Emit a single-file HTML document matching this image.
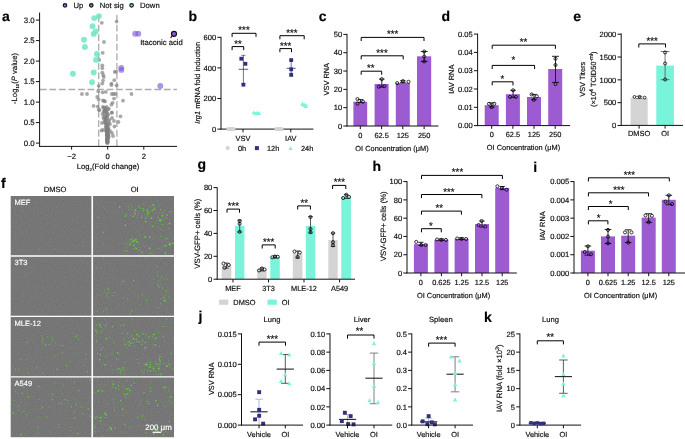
<!DOCTYPE html><html><head><meta charset="utf-8"><title>Figure</title><style>html,body{margin:0;padding:0;background:#fff}svg{display:block}</style></head><body><svg width="685" height="439" viewBox="0 0 685 439" font-family="'Liberation Sans', Arial, sans-serif" text-rendering="geometricPrecision">
<style>text{stroke:#000;stroke-width:0.18px;stroke-opacity:0.9}text.w{stroke:#fff}</style>
<rect width="685" height="439" fill="#fff"/>
<text x="2" y="21" font-size="14" font-weight="bold" fill="#000">a</text>
<circle cx="65" cy="5.3" r="1.75" fill="#8f6fe0" stroke="#111" stroke-width="1.15"/>
<text x="73.5" y="8.0" font-size="7.7" text-anchor="start" fill="#111" >Up</text>
<circle cx="91.3" cy="5.3" r="1.75" fill="#8a8a8a" stroke="#111" stroke-width="1.15"/>
<text x="99.8" y="8.0" font-size="7.7" text-anchor="start" fill="#111" >Not sig</text>
<circle cx="131.6" cy="5.3" r="1.75" fill="#6fe6c6" stroke="#111" stroke-width="1.15"/>
<text x="140.0" y="8.0" font-size="7.7" text-anchor="start" fill="#111" >Down</text>
<line x1="98.70" y1="146.20" x2="98.70" y2="12.80" stroke="#acacac" stroke-width="1.3" stroke-dasharray="6.8 2.76"/>
<line x1="116.90" y1="146.20" x2="116.90" y2="12.80" stroke="#acacac" stroke-width="1.3" stroke-dasharray="6.8 2.76"/>
<line x1="39.90" y1="89.50" x2="177.00" y2="89.50" stroke="#acacac" stroke-width="1.3" stroke-dasharray="6.75 2.78"/>
<circle cx="101.8" cy="22.8" r="1.9" fill="#808080" fill-opacity="0.68"/>
<circle cx="116.6" cy="21.6" r="1.9" fill="#808080" fill-opacity="0.68"/>
<circle cx="104" cy="42" r="1.9" fill="#808080" fill-opacity="0.68"/>
<circle cx="102.7" cy="52.8" r="1.9" fill="#808080" fill-opacity="0.68"/>
<circle cx="99.2" cy="59.9" r="1.9" fill="#808080" fill-opacity="0.68"/>
<circle cx="102.3" cy="65.3" r="1.9" fill="#808080" fill-opacity="0.68"/>
<circle cx="102.3" cy="68.2" r="1.9" fill="#808080" fill-opacity="0.68"/>
<circle cx="102.3" cy="72.6" r="1.9" fill="#808080" fill-opacity="0.68"/>
<circle cx="103.2" cy="75" r="1.9" fill="#808080" fill-opacity="0.68"/>
<circle cx="103.8" cy="77" r="1.9" fill="#808080" fill-opacity="0.68"/>
<circle cx="103" cy="80.6" r="1.9" fill="#808080" fill-opacity="0.68"/>
<circle cx="102.3" cy="83.6" r="1.9" fill="#808080" fill-opacity="0.68"/>
<circle cx="114.7" cy="71.9" r="1.9" fill="#808080" fill-opacity="0.68"/>
<circle cx="116.2" cy="71.6" r="1.9" fill="#808080" fill-opacity="0.68"/>
<circle cx="114.3" cy="80.2" r="1.9" fill="#808080" fill-opacity="0.68"/>
<circle cx="111.4" cy="83.6" r="1.9" fill="#808080" fill-opacity="0.68"/>
<circle cx="111.4" cy="85" r="1.9" fill="#808080" fill-opacity="0.68"/>
<circle cx="116.6" cy="85.3" r="1.9" fill="#808080" fill-opacity="0.68"/>
<circle cx="98.7" cy="85.8" r="1.9" fill="#808080" fill-opacity="0.68"/>
<circle cx="81.9" cy="94" r="1.9" fill="#808080" fill-opacity="0.68"/>
<circle cx="87" cy="94" r="1.9" fill="#808080" fill-opacity="0.68"/>
<circle cx="98.2" cy="91.2" r="1.9" fill="#808080" fill-opacity="0.68"/>
<circle cx="102.6" cy="92.3" r="1.9" fill="#808080" fill-opacity="0.68"/>
<circle cx="105.8" cy="91.9" r="1.9" fill="#808080" fill-opacity="0.68"/>
<circle cx="111.8" cy="94" r="1.9" fill="#808080" fill-opacity="0.68"/>
<circle cx="113.5" cy="94" r="1.9" fill="#808080" fill-opacity="0.68"/>
<circle cx="115.5" cy="94" r="1.9" fill="#808080" fill-opacity="0.68"/>
<circle cx="131.5" cy="94" r="1.9" fill="#808080" fill-opacity="0.68"/>
<circle cx="97.2" cy="97" r="1.9" fill="#808080" fill-opacity="0.68"/>
<circle cx="98.7" cy="99.6" r="1.9" fill="#808080" fill-opacity="0.68"/>
<circle cx="103" cy="100.4" r="1.9" fill="#808080" fill-opacity="0.68"/>
<circle cx="105" cy="101.4" r="1.9" fill="#808080" fill-opacity="0.68"/>
<circle cx="104" cy="100.9" r="1.9" fill="#808080" fill-opacity="0.68"/>
<circle cx="114" cy="98.6" r="1.9" fill="#808080" fill-opacity="0.68"/>
<circle cx="123" cy="100.7" r="1.9" fill="#808080" fill-opacity="0.68"/>
<circle cx="112.6" cy="102.8" r="1.9" fill="#808080" fill-opacity="0.68"/>
<circle cx="111.4" cy="104.7" r="1.9" fill="#808080" fill-opacity="0.68"/>
<circle cx="93.6" cy="105.9" r="1.9" fill="#808080" fill-opacity="0.68"/>
<circle cx="97.7" cy="106.6" r="1.9" fill="#808080" fill-opacity="0.68"/>
<circle cx="103.5" cy="107.7" r="1.9" fill="#808080" fill-opacity="0.68"/>
<circle cx="105.3" cy="109.1" r="1.9" fill="#808080" fill-opacity="0.68"/>
<circle cx="98.7" cy="109.8" r="1.9" fill="#808080" fill-opacity="0.68"/>
<circle cx="103.8" cy="111.3" r="1.9" fill="#808080" fill-opacity="0.68"/>
<circle cx="111.8" cy="112.5" r="1.9" fill="#808080" fill-opacity="0.68"/>
<circle cx="99.5" cy="110" r="1.9" fill="#808080" fill-opacity="0.68"/>
<circle cx="103" cy="107" r="1.9" fill="#808080" fill-opacity="0.68"/>
<circle cx="104.5" cy="110.5" r="1.9" fill="#808080" fill-opacity="0.68"/>
<circle cx="102.5" cy="114" r="1.9" fill="#808080" fill-opacity="0.68"/>
<circle cx="104.5" cy="116.5" r="1.9" fill="#808080" fill-opacity="0.68"/>
<circle cx="105.5" cy="119" r="1.9" fill="#808080" fill-opacity="0.68"/>
<circle cx="111.8" cy="112.8" r="1.9" fill="#808080" fill-opacity="0.68"/>
<circle cx="120.5" cy="116.3" r="1.9" fill="#808080" fill-opacity="0.68"/>
<circle cx="112" cy="118" r="1.9" fill="#808080" fill-opacity="0.68"/>
<circle cx="109.5" cy="120" r="1.9" fill="#808080" fill-opacity="0.68"/>
<circle cx="114" cy="121" r="1.9" fill="#808080" fill-opacity="0.68"/>
<circle cx="118.5" cy="122" r="1.9" fill="#808080" fill-opacity="0.68"/>
<circle cx="102" cy="123" r="1.9" fill="#808080" fill-opacity="0.68"/>
<circle cx="105.5" cy="123" r="1.9" fill="#808080" fill-opacity="0.68"/>
<circle cx="110" cy="124" r="1.9" fill="#808080" fill-opacity="0.68"/>
<circle cx="106" cy="126" r="1.9" fill="#808080" fill-opacity="0.68"/>
<circle cx="114.5" cy="126.5" r="1.9" fill="#808080" fill-opacity="0.68"/>
<circle cx="108.5" cy="128" r="1.9" fill="#808080" fill-opacity="0.68"/>
<circle cx="101.5" cy="130.5" r="1.9" fill="#808080" fill-opacity="0.68"/>
<circle cx="106" cy="130" r="1.9" fill="#808080" fill-opacity="0.68"/>
<circle cx="110" cy="131" r="1.9" fill="#808080" fill-opacity="0.68"/>
<circle cx="112" cy="133" r="1.9" fill="#808080" fill-opacity="0.68"/>
<circle cx="113" cy="136" r="1.9" fill="#808080" fill-opacity="0.68"/>
<circle cx="103" cy="130" r="1.9" fill="#808080" fill-opacity="0.68"/>
<circle cx="107.4" cy="143.0" r="1.9" fill="#808080" fill-opacity="0.68"/>
<circle cx="107.2" cy="142.7" r="1.9" fill="#808080" fill-opacity="0.68"/>
<circle cx="107.8" cy="142.3" r="1.9" fill="#808080" fill-opacity="0.68"/>
<circle cx="107.1" cy="142.0" r="1.9" fill="#808080" fill-opacity="0.68"/>
<circle cx="107.6" cy="141.6" r="1.9" fill="#808080" fill-opacity="0.68"/>
<circle cx="107.4" cy="141.3" r="1.9" fill="#808080" fill-opacity="0.68"/>
<circle cx="107.0" cy="141.0" r="1.9" fill="#808080" fill-opacity="0.68"/>
<circle cx="107.6" cy="140.6" r="1.9" fill="#808080" fill-opacity="0.68"/>
<circle cx="107.0" cy="140.3" r="1.9" fill="#808080" fill-opacity="0.68"/>
<circle cx="107.5" cy="139.9" r="1.9" fill="#808080" fill-opacity="0.68"/>
<circle cx="107.0" cy="139.6" r="1.9" fill="#808080" fill-opacity="0.68"/>
<circle cx="107.0" cy="139.2" r="1.9" fill="#808080" fill-opacity="0.68"/>
<circle cx="107.5" cy="138.9" r="1.9" fill="#808080" fill-opacity="0.68"/>
<circle cx="108.1" cy="138.6" r="1.9" fill="#808080" fill-opacity="0.68"/>
<circle cx="107.0" cy="138.2" r="1.9" fill="#808080" fill-opacity="0.68"/>
<circle cx="107.1" cy="137.9" r="1.9" fill="#808080" fill-opacity="0.68"/>
<circle cx="107.8" cy="137.5" r="1.9" fill="#808080" fill-opacity="0.68"/>
<circle cx="108.4" cy="137.2" r="1.9" fill="#808080" fill-opacity="0.68"/>
<circle cx="107.7" cy="136.9" r="1.9" fill="#808080" fill-opacity="0.68"/>
<circle cx="107.4" cy="136.5" r="1.9" fill="#808080" fill-opacity="0.68"/>
<circle cx="108.5" cy="136.2" r="1.9" fill="#808080" fill-opacity="0.68"/>
<circle cx="106.7" cy="135.8" r="1.9" fill="#808080" fill-opacity="0.68"/>
<circle cx="108.3" cy="135.5" r="1.9" fill="#808080" fill-opacity="0.68"/>
<circle cx="107.2" cy="135.1" r="1.9" fill="#808080" fill-opacity="0.68"/>
<circle cx="106.9" cy="134.8" r="1.9" fill="#808080" fill-opacity="0.68"/>
<circle cx="106.8" cy="134.5" r="1.9" fill="#808080" fill-opacity="0.68"/>
<circle cx="107.2" cy="134.1" r="1.9" fill="#808080" fill-opacity="0.68"/>
<circle cx="108.3" cy="133.8" r="1.9" fill="#808080" fill-opacity="0.68"/>
<circle cx="106.9" cy="133.4" r="1.9" fill="#808080" fill-opacity="0.68"/>
<circle cx="107.8" cy="133.1" r="1.9" fill="#808080" fill-opacity="0.68"/>
<circle cx="107.9" cy="132.8" r="1.9" fill="#808080" fill-opacity="0.68"/>
<circle cx="107.3" cy="132.4" r="1.9" fill="#808080" fill-opacity="0.68"/>
<circle cx="107.7" cy="132.1" r="1.9" fill="#808080" fill-opacity="0.68"/>
<circle cx="106.5" cy="131.7" r="1.9" fill="#808080" fill-opacity="0.68"/>
<circle cx="106.5" cy="131.4" r="1.9" fill="#808080" fill-opacity="0.68"/>
<circle cx="106.9" cy="131.0" r="1.9" fill="#808080" fill-opacity="0.68"/>
<circle cx="108.1" cy="130.7" r="1.9" fill="#808080" fill-opacity="0.68"/>
<circle cx="107.4" cy="130.4" r="1.9" fill="#808080" fill-opacity="0.68"/>
<circle cx="107.1" cy="130.0" r="1.9" fill="#808080" fill-opacity="0.68"/>
<circle cx="107.8" cy="129.7" r="1.9" fill="#808080" fill-opacity="0.68"/>
<circle cx="107.5" cy="129.3" r="1.9" fill="#808080" fill-opacity="0.68"/>
<circle cx="107.0" cy="129.0" r="1.9" fill="#808080" fill-opacity="0.68"/>
<circle cx="107.7" cy="129.0" r="1.9" fill="#808080" fill-opacity="0.68"/>
<circle cx="107.4" cy="128.2" r="1.9" fill="#808080" fill-opacity="0.68"/>
<circle cx="105.8" cy="127.4" r="1.9" fill="#808080" fill-opacity="0.68"/>
<circle cx="106.9" cy="126.6" r="1.9" fill="#808080" fill-opacity="0.68"/>
<circle cx="106.7" cy="125.7" r="1.9" fill="#808080" fill-opacity="0.68"/>
<circle cx="108.1" cy="124.9" r="1.9" fill="#808080" fill-opacity="0.68"/>
<circle cx="107.4" cy="124.1" r="1.9" fill="#808080" fill-opacity="0.68"/>
<circle cx="105.5" cy="123.3" r="1.9" fill="#808080" fill-opacity="0.68"/>
<circle cx="108.6" cy="122.5" r="1.9" fill="#808080" fill-opacity="0.68"/>
<circle cx="104.5" cy="121.7" r="1.9" fill="#808080" fill-opacity="0.68"/>
<circle cx="105.8" cy="120.9" r="1.9" fill="#808080" fill-opacity="0.68"/>
<circle cx="107.5" cy="120.0" r="1.9" fill="#808080" fill-opacity="0.68"/>
<circle cx="104.3" cy="119.2" r="1.9" fill="#808080" fill-opacity="0.68"/>
<circle cx="106.0" cy="118.4" r="1.9" fill="#808080" fill-opacity="0.68"/>
<circle cx="103.4" cy="117.6" r="1.9" fill="#808080" fill-opacity="0.68"/>
<circle cx="107.0" cy="116.8" r="1.9" fill="#808080" fill-opacity="0.68"/>
<circle cx="107.5" cy="116.0" r="1.9" fill="#808080" fill-opacity="0.68"/>
<circle cx="106.3" cy="115.1" r="1.9" fill="#808080" fill-opacity="0.68"/>
<circle cx="108.2" cy="114.3" r="1.9" fill="#808080" fill-opacity="0.68"/>
<circle cx="104.5" cy="113.5" r="1.9" fill="#808080" fill-opacity="0.68"/>
<circle cx="107.0" cy="112.7" r="1.9" fill="#808080" fill-opacity="0.68"/>
<circle cx="106.3" cy="111.9" r="1.9" fill="#808080" fill-opacity="0.68"/>
<circle cx="106.1" cy="111.1" r="1.9" fill="#808080" fill-opacity="0.68"/>
<circle cx="105.2" cy="110.3" r="1.9" fill="#808080" fill-opacity="0.68"/>
<circle cx="108.0" cy="109.4" r="1.9" fill="#808080" fill-opacity="0.68"/>
<circle cx="108.8" cy="108.6" r="1.9" fill="#808080" fill-opacity="0.68"/>
<circle cx="105.2" cy="107.8" r="1.9" fill="#808080" fill-opacity="0.68"/>
<circle cx="106.6" cy="107.0" r="1.9" fill="#808080" fill-opacity="0.68"/>
<circle cx="98.9" cy="16.1" r="2.95" fill="#6fe6c6" fill-opacity="0.85"/>
<circle cx="94.2" cy="18.1" r="2.95" fill="#6fe6c6" fill-opacity="0.85"/>
<circle cx="92.5" cy="26.3" r="2.95" fill="#6fe6c6" fill-opacity="0.85"/>
<circle cx="95.7" cy="31.4" r="2.95" fill="#6fe6c6" fill-opacity="0.85"/>
<circle cx="93.6" cy="33.9" r="2.95" fill="#6fe6c6" fill-opacity="0.85"/>
<circle cx="84.0" cy="39.7" r="2.95" fill="#6fe6c6" fill-opacity="0.85"/>
<circle cx="84.9" cy="47.0" r="2.95" fill="#6fe6c6" fill-opacity="0.85"/>
<circle cx="96.9" cy="54.0" r="2.95" fill="#6fe6c6" fill-opacity="0.85"/>
<circle cx="96.0" cy="59.9" r="2.95" fill="#6fe6c6" fill-opacity="0.85"/>
<circle cx="72.9" cy="73.8" r="2.95" fill="#6fe6c6" fill-opacity="0.85"/>
<circle cx="93.7" cy="72.5" r="2.95" fill="#6fe6c6" fill-opacity="0.85"/>
<circle cx="92" cy="82.3" r="2.95" fill="#6fe6c6" fill-opacity="0.85"/>
<circle cx="135.2" cy="33.8" r="2.95" fill="#8462dc" fill-opacity="0.68"/>
<circle cx="138.3" cy="33.8" r="2.95" fill="#8462dc" fill-opacity="0.68"/>
<circle cx="121.3" cy="69.9" r="2.95" fill="#8462dc" fill-opacity="0.68"/>
<circle cx="121.3" cy="68.0" r="2.95" fill="#8462dc" fill-opacity="0.68"/>
<circle cx="160.3" cy="86" r="2.95" fill="#8462dc" fill-opacity="0.68"/>
<line x1="170.60" y1="38.00" x2="173.00" y2="34.50" stroke="#111" stroke-width="1.1" />
<circle cx="174" cy="33.8" r="2.5" fill="#8f5fe0" stroke="#111" stroke-width="1.25"/>
<text x="161.5" y="44.6" font-size="7.7" text-anchor="middle" fill="#111" >Itaconic acid</text>
<line x1="39.60" y1="12.55" x2="39.60" y2="146.85" stroke="#111" stroke-width="1.0" />
<line x1="35.90" y1="20.10" x2="39.60" y2="20.10" stroke="#111" stroke-width="1.0" />
<text x="34.7" y="22.8" font-size="7.8500000000000005" text-anchor="end" fill="#111" >3.0</text>
<line x1="35.90" y1="40.60" x2="39.60" y2="40.60" stroke="#111" stroke-width="1.0" />
<text x="34.7" y="43.3" font-size="7.8500000000000005" text-anchor="end" fill="#111" >2.5</text>
<line x1="35.90" y1="61.10" x2="39.60" y2="61.10" stroke="#111" stroke-width="1.0" />
<text x="34.7" y="63.8" font-size="7.8500000000000005" text-anchor="end" fill="#111" >2.0</text>
<line x1="35.90" y1="81.60" x2="39.60" y2="81.60" stroke="#111" stroke-width="1.0" />
<text x="34.7" y="84.3" font-size="7.8500000000000005" text-anchor="end" fill="#111" >1.5</text>
<line x1="35.90" y1="102.10" x2="39.60" y2="102.10" stroke="#111" stroke-width="1.0" />
<text x="34.7" y="104.8" font-size="7.8500000000000005" text-anchor="end" fill="#111" >1.0</text>
<line x1="35.90" y1="122.60" x2="39.60" y2="122.60" stroke="#111" stroke-width="1.0" />
<text x="34.7" y="125.3" font-size="7.8500000000000005" text-anchor="end" fill="#111" >0.5</text>
<line x1="35.90" y1="143.10" x2="39.60" y2="143.10" stroke="#111" stroke-width="1.0" />
<text x="34.7" y="145.8" font-size="7.8500000000000005" text-anchor="end" fill="#111" >0.0</text>
<line x1="39.15" y1="146.40" x2="177.00" y2="146.40" stroke="#111" stroke-width="1.0" />
<line x1="71.60" y1="146.40" x2="71.60" y2="149.60" stroke="#111" stroke-width="1.0" />
<text x="71.6" y="159.3" font-size="7.7" text-anchor="middle" fill="#111" >−2</text>
<line x1="107.70" y1="146.40" x2="107.70" y2="149.60" stroke="#111" stroke-width="1.0" />
<text x="107.7" y="159.3" font-size="7.7" text-anchor="middle" fill="#111" >0</text>
<line x1="143.80" y1="146.40" x2="143.80" y2="149.60" stroke="#111" stroke-width="1.0" />
<text x="143.8" y="159.3" font-size="7.7" text-anchor="middle" fill="#111" >2</text>
<text transform="translate(17,78.5) rotate(-90)" font-size="7.7" text-anchor="middle" fill="#111">-Log<tspan font-size="4.3" dy="1.5">10</tspan><tspan dy="-1.5">(</tspan><tspan font-style="italic">P</tspan> value)</text>
<text x="108" y="169" font-size="7.7" text-anchor="middle" fill="#111">Log<tspan font-size="4.3" dy="1.5">2</tspan><tspan dy="-1.5">(Fold change)</tspan></text>
<text x="188.5" y="20.8" font-size="14" font-weight="bold" fill="#000">b</text>
<line x1="221.00" y1="36.85" x2="221.00" y2="129.55" stroke="#111" stroke-width="1.0" />
<line x1="217.30" y1="37.30" x2="221.00" y2="37.30" stroke="#111" stroke-width="1.0" />
<text x="216.1" y="40.0" font-size="7.550000000000001" text-anchor="end" fill="#111" >600</text>
<line x1="217.30" y1="67.90" x2="221.00" y2="67.90" stroke="#111" stroke-width="1.0" />
<text x="216.1" y="70.6" font-size="7.550000000000001" text-anchor="end" fill="#111" >400</text>
<line x1="217.30" y1="98.50" x2="221.00" y2="98.50" stroke="#111" stroke-width="1.0" />
<text x="216.1" y="101.2" font-size="7.550000000000001" text-anchor="end" fill="#111" >200</text>
<line x1="217.30" y1="129.10" x2="221.00" y2="129.10" stroke="#111" stroke-width="1.0" />
<text x="216.1" y="131.8" font-size="7.550000000000001" text-anchor="end" fill="#111" >0</text>
<line x1="220.55" y1="129.10" x2="313.40" y2="129.10" stroke="#111" stroke-width="1.0" />
<line x1="243.00" y1="129.10" x2="243.00" y2="132.30" stroke="#111" stroke-width="1.0" />
<text x="243.0" y="140.7" font-size="7.4" text-anchor="middle" fill="#111" >VSV</text>
<line x1="290.80" y1="129.10" x2="290.80" y2="132.30" stroke="#111" stroke-width="1.0" />
<text x="290.8" y="140.7" font-size="7.4" text-anchor="middle" fill="#111" >IAV</text>
<text transform="translate(200,82.8) rotate(-90)" font-size="7.4" text-anchor="middle" fill="#111"><tspan font-style="italic">Irg1</tspan> mRNA fold induction</text>
<circle cx="228.6" cy="129.1" r="2.2" fill="#d4d4d4"/>
<circle cx="230.2" cy="129.1" r="2.2" fill="#d4d4d4"/>
<circle cx="231.8" cy="129.1" r="2.2" fill="#d4d4d4"/>
<circle cx="233.4" cy="129.1" r="2.2" fill="#d4d4d4"/>
<circle cx="276.6" cy="129.1" r="2.2" fill="#d4d4d4"/>
<circle cx="278.2" cy="129.1" r="2.2" fill="#d4d4d4"/>
<circle cx="279.8" cy="129.1" r="2.2" fill="#d4d4d4"/>
<circle cx="281.4" cy="129.1" r="2.2" fill="#d4d4d4"/>
<line x1="243.40" y1="55.30" x2="243.40" y2="83.60" stroke="#32307c" stroke-width="0.7" />
<line x1="241.40" y1="55.30" x2="245.40" y2="55.30" stroke="#32307c" stroke-width="0.7" />
<line x1="241.40" y1="83.60" x2="245.40" y2="83.60" stroke="#32307c" stroke-width="0.7" />
<line x1="238.60" y1="69.30" x2="248.20" y2="69.30" stroke="#32307c" stroke-width="0.8" />
<rect x="239.4" y="56.8" width="3.8" height="3.8" fill="#32307c"/>
<rect x="243.5" y="61.9" width="3.8" height="3.8" fill="#32307c"/>
<rect x="241.5" y="82.8" width="3.8" height="3.8" fill="#32307c"/>
<line x1="291.20" y1="60.00" x2="291.20" y2="76.00" stroke="#32307c" stroke-width="0.7" />
<line x1="289.20" y1="60.00" x2="293.20" y2="60.00" stroke="#32307c" stroke-width="0.7" />
<line x1="289.20" y1="76.00" x2="293.20" y2="76.00" stroke="#32307c" stroke-width="0.7" />
<line x1="286.70" y1="68.30" x2="295.60" y2="68.30" stroke="#32307c" stroke-width="0.8" />
<rect x="289.3" y="58.2" width="3.8" height="3.8" fill="#32307c"/>
<rect x="289.3" y="67.4" width="3.8" height="3.8" fill="#32307c"/>
<rect x="289.3" y="72.9" width="3.8" height="3.8" fill="#32307c"/>
<path d="M251.9,114.6 L256.5,114.6 L254.2,110.4 Z" fill="#79f4db"/>
<path d="M254.2,115.2 L258.8,115.2 L256.5,111.0 Z" fill="#79f4db"/>
<path d="M256.5,114.9 L261.1,114.9 L258.8,110.7 Z" fill="#79f4db"/>
<line x1="252.00" y1="112.70" x2="260.00" y2="112.70" stroke="#79f4db" stroke-width="0.8" />
<path d="M300.2,105.7 L304.8,105.7 L302.5,101.5 Z" fill="#79f4db"/>
<path d="M303.5,108.0 L308.1,108.0 L305.8,103.8 Z" fill="#79f4db"/>
<path d="M302.0,106.7 L306.6,106.7 L304.3,102.5 Z" fill="#79f4db"/>
<line x1="300.50" y1="105.00" x2="308.50" y2="105.00" stroke="#79f4db" stroke-width="0.8" />
<path d="M232.1,36.9 V33.3 H256.0 V36.9" fill="none" stroke="#000" stroke-width="1" stroke-linejoin="miter"/>
<text x="244.0" y="33.3" font-size="9.7" text-anchor="middle" fill="#000" >***</text>
<path d="M232.1,50.2 V46.6 H243.7 V50.2" fill="none" stroke="#000" stroke-width="1" stroke-linejoin="miter"/>
<text x="237.9" y="46.6" font-size="9.7" text-anchor="middle" fill="#000" >**</text>
<path d="M279.9,39.3 V35.7 H304.2 V39.3" fill="none" stroke="#000" stroke-width="1" stroke-linejoin="miter"/>
<text x="291.9" y="35.7" font-size="9.7" text-anchor="middle" fill="#000" >***</text>
<path d="M279.9,52.2 V48.6 H291.5 V52.2" fill="none" stroke="#000" stroke-width="1" stroke-linejoin="miter"/>
<text x="285.7" y="48.6" font-size="9.7" text-anchor="middle" fill="#000" >***</text>
<circle cx="227.7" cy="148.1" r="2.1" fill="#d4d4d4"/>
<text x="237.9" y="150.8" font-size="7.4" text-anchor="start" fill="#111" >0h</text>
<rect x="254.9" y="146.1" width="4" height="4" fill="#32307c"/>
<text x="267.0" y="150.8" font-size="7.4" text-anchor="start" fill="#111" >12h</text>
<path d="M288.5,150.0 L292.7,150.0 L290.6,146.2 Z" fill="#79f4db"/>
<text x="301.0" y="150.8" font-size="7.4" text-anchor="start" fill="#111" >24h</text>
<text x="318.7" y="21" font-size="14" font-weight="bold" fill="#000">c</text>
<rect x="353.4" y="101.7" width="13.8" height="24.3" fill="#9d5bd2"/>
<rect x="374.6" y="84.0" width="14.0" height="42.0" fill="#9d5bd2"/>
<rect x="395.8" y="83.0" width="14.0" height="43.0" fill="#9d5bd2"/>
<rect x="417.0" y="56.3" width="14.2" height="69.7" fill="#9d5bd2"/>
<line x1="347.00" y1="33.95" x2="347.00" y2="126.45" stroke="#111" stroke-width="1.0" />
<line x1="343.30" y1="34.40" x2="347.00" y2="34.40" stroke="#111" stroke-width="1.0" />
<text x="342.1" y="37.1" font-size="7.550000000000001" text-anchor="end" fill="#111" >50</text>
<line x1="343.30" y1="52.72" x2="347.00" y2="52.72" stroke="#111" stroke-width="1.0" />
<text x="342.1" y="55.4" font-size="7.550000000000001" text-anchor="end" fill="#111" >40</text>
<line x1="343.30" y1="71.04" x2="347.00" y2="71.04" stroke="#111" stroke-width="1.0" />
<text x="342.1" y="73.7" font-size="7.550000000000001" text-anchor="end" fill="#111" >30</text>
<line x1="343.30" y1="89.36" x2="347.00" y2="89.36" stroke="#111" stroke-width="1.0" />
<text x="342.1" y="92.1" font-size="7.550000000000001" text-anchor="end" fill="#111" >20</text>
<line x1="343.30" y1="107.68" x2="347.00" y2="107.68" stroke="#111" stroke-width="1.0" />
<text x="342.1" y="110.4" font-size="7.550000000000001" text-anchor="end" fill="#111" >10</text>
<line x1="343.30" y1="126.00" x2="347.00" y2="126.00" stroke="#111" stroke-width="1.0" />
<text x="342.1" y="128.7" font-size="7.550000000000001" text-anchor="end" fill="#111" >0</text>
<line x1="346.55" y1="126.00" x2="438.50" y2="126.00" stroke="#111" stroke-width="1.0" />
<line x1="360.30" y1="126.00" x2="360.30" y2="129.20" stroke="#111" stroke-width="1.0" />
<text x="360.3" y="138.0" font-size="7.4" text-anchor="middle" fill="#111" >0</text>
<line x1="381.60" y1="126.00" x2="381.60" y2="129.20" stroke="#111" stroke-width="1.0" />
<text x="381.6" y="138.0" font-size="7.4" text-anchor="middle" fill="#111" >62.5</text>
<line x1="402.80" y1="126.00" x2="402.80" y2="129.20" stroke="#111" stroke-width="1.0" />
<text x="402.8" y="138.0" font-size="7.4" text-anchor="middle" fill="#111" >125</text>
<line x1="424.10" y1="126.00" x2="424.10" y2="129.20" stroke="#111" stroke-width="1.0" />
<text x="424.1" y="138.0" font-size="7.4" text-anchor="middle" fill="#111" >250</text>
<text transform="translate(328.5,79.2) rotate(-90)" font-size="7.4" text-anchor="middle" fill="#111" >VSV RNA</text>
<text x="392.0" y="150.7" font-size="7.4" text-anchor="middle" fill="#111" >OI Concentration (μM)</text>
<line x1="360.50" y1="99.60" x2="360.50" y2="102.40" stroke="#111" stroke-width="0.9" />
<line x1="357.70" y1="99.60" x2="363.30" y2="99.60" stroke="#111" stroke-width="0.9" />
<line x1="357.70" y1="102.40" x2="363.30" y2="102.40" stroke="#111" stroke-width="0.9" />
<circle cx="357.5" cy="99.1" r="1.55" fill="none" stroke="#000" stroke-width="0.78"/>
<circle cx="363.0" cy="101.7" r="1.55" fill="none" stroke="#000" stroke-width="0.78"/>
<circle cx="357.5" cy="103.7" r="1.55" fill="none" stroke="#000" stroke-width="0.78"/>
<line x1="381.80" y1="79.10" x2="381.80" y2="87.10" stroke="#111" stroke-width="0.9" />
<line x1="379.00" y1="79.10" x2="384.60" y2="79.10" stroke="#111" stroke-width="0.9" />
<line x1="379.00" y1="87.10" x2="384.60" y2="87.10" stroke="#111" stroke-width="0.9" />
<circle cx="381.8" cy="79.1" r="1.55" fill="none" stroke="#000" stroke-width="0.78"/>
<circle cx="378.8" cy="86.7" r="1.55" fill="none" stroke="#000" stroke-width="0.78"/>
<circle cx="384.4" cy="86.1" r="1.55" fill="none" stroke="#000" stroke-width="0.78"/>
<line x1="402.90" y1="80.80" x2="402.90" y2="82.70" stroke="#111" stroke-width="0.9" />
<line x1="400.10" y1="80.80" x2="405.70" y2="80.80" stroke="#111" stroke-width="0.9" />
<line x1="400.10" y1="82.70" x2="405.70" y2="82.70" stroke="#111" stroke-width="0.9" />
<circle cx="397.2" cy="83.1" r="1.55" fill="none" stroke="#000" stroke-width="0.78"/>
<circle cx="402.9" cy="81.1" r="1.55" fill="none" stroke="#000" stroke-width="0.78"/>
<circle cx="408.5" cy="81.8" r="1.55" fill="none" stroke="#000" stroke-width="0.78"/>
<line x1="424.20" y1="51.50" x2="424.20" y2="61.50" stroke="#111" stroke-width="0.9" />
<line x1="420.80" y1="51.50" x2="427.60" y2="51.50" stroke="#111" stroke-width="0.9" />
<line x1="420.80" y1="61.50" x2="427.60" y2="61.50" stroke="#111" stroke-width="0.9" />
<circle cx="424.2" cy="51.5" r="1.55" fill="none" stroke="#000" stroke-width="0.78"/>
<circle cx="424.2" cy="56.6" r="1.55" fill="none" stroke="#000" stroke-width="0.78"/>
<circle cx="424.2" cy="61.5" r="1.55" fill="none" stroke="#000" stroke-width="0.78"/>
<path d="M361.2,41.0 V37.4 H424.0 V41.0" fill="none" stroke="#000" stroke-width="1" stroke-linejoin="miter"/>
<text x="392.6" y="37.4" font-size="9.7" text-anchor="middle" fill="#000" >***</text>
<path d="M361.2,59.4 V55.8 H403.2 V59.4" fill="none" stroke="#000" stroke-width="1" stroke-linejoin="miter"/>
<text x="382.0" y="55.8" font-size="9.7" text-anchor="middle" fill="#000" >***</text>
<path d="M361.2,74.8 V71.2 H381.7 V74.8" fill="none" stroke="#000" stroke-width="1" stroke-linejoin="miter"/>
<text x="370.8" y="71.2" font-size="9.7" text-anchor="middle" fill="#000" >**</text>
<text x="441.5" y="21" font-size="14" font-weight="bold" fill="#000">d</text>
<rect x="484.7" y="105.2" width="14.0" height="20.4" fill="#9d5bd2"/>
<rect x="505.9" y="94.2" width="14.0" height="31.4" fill="#9d5bd2"/>
<rect x="527.0" y="97.0" width="14.0" height="28.6" fill="#9d5bd2"/>
<rect x="548.2" y="69.0" width="14.0" height="56.6" fill="#9d5bd2"/>
<line x1="477.60" y1="33.65" x2="477.60" y2="126.05" stroke="#111" stroke-width="1.0" />
<line x1="473.90" y1="34.10" x2="477.60" y2="34.10" stroke="#111" stroke-width="1.0" />
<text x="472.7" y="36.8" font-size="7.550000000000001" text-anchor="end" fill="#111" >0.05</text>
<line x1="473.90" y1="52.40" x2="477.60" y2="52.40" stroke="#111" stroke-width="1.0" />
<text x="472.7" y="55.1" font-size="7.550000000000001" text-anchor="end" fill="#111" >0.04</text>
<line x1="473.90" y1="70.70" x2="477.60" y2="70.70" stroke="#111" stroke-width="1.0" />
<text x="472.7" y="73.4" font-size="7.550000000000001" text-anchor="end" fill="#111" >0.03</text>
<line x1="473.90" y1="89.00" x2="477.60" y2="89.00" stroke="#111" stroke-width="1.0" />
<text x="472.7" y="91.7" font-size="7.550000000000001" text-anchor="end" fill="#111" >0.02</text>
<line x1="473.90" y1="107.30" x2="477.60" y2="107.30" stroke="#111" stroke-width="1.0" />
<text x="472.7" y="110.0" font-size="7.550000000000001" text-anchor="end" fill="#111" >0.01</text>
<line x1="473.90" y1="125.60" x2="477.60" y2="125.60" stroke="#111" stroke-width="1.0" />
<text x="472.7" y="128.3" font-size="7.550000000000001" text-anchor="end" fill="#111" >0.00</text>
<line x1="477.15" y1="125.60" x2="570.00" y2="125.60" stroke="#111" stroke-width="1.0" />
<line x1="491.70" y1="125.60" x2="491.70" y2="128.80" stroke="#111" stroke-width="1.0" />
<text x="491.7" y="136.9" font-size="7.4" text-anchor="middle" fill="#111" >0</text>
<line x1="512.90" y1="125.60" x2="512.90" y2="128.80" stroke="#111" stroke-width="1.0" />
<text x="512.9" y="136.9" font-size="7.4" text-anchor="middle" fill="#111" >62.5</text>
<line x1="534.00" y1="125.60" x2="534.00" y2="128.80" stroke="#111" stroke-width="1.0" />
<text x="534.0" y="136.9" font-size="7.4" text-anchor="middle" fill="#111" >125</text>
<line x1="555.20" y1="125.60" x2="555.20" y2="128.80" stroke="#111" stroke-width="1.0" />
<text x="555.2" y="136.9" font-size="7.4" text-anchor="middle" fill="#111" >250</text>
<text transform="translate(453.5,79.2) rotate(-90)" font-size="7.4" text-anchor="middle" fill="#111" >IAV RNA</text>
<text x="523.5" y="150.3" font-size="7.4" text-anchor="middle" fill="#111" >OI Concentration (μM)</text>
<line x1="491.70" y1="102.90" x2="491.70" y2="107.10" stroke="#111" stroke-width="0.9" />
<line x1="488.90" y1="102.90" x2="494.50" y2="102.90" stroke="#111" stroke-width="0.9" />
<line x1="488.90" y1="107.10" x2="494.50" y2="107.10" stroke="#111" stroke-width="0.9" />
<circle cx="489.0" cy="103.8" r="1.55" fill="none" stroke="#000" stroke-width="0.78"/>
<circle cx="494.3" cy="103.8" r="1.55" fill="none" stroke="#000" stroke-width="0.78"/>
<circle cx="491.7" cy="107.1" r="1.55" fill="none" stroke="#000" stroke-width="0.78"/>
<line x1="513.10" y1="90.30" x2="513.10" y2="97.40" stroke="#111" stroke-width="0.9" />
<line x1="510.30" y1="90.30" x2="515.90" y2="90.30" stroke="#111" stroke-width="0.9" />
<line x1="510.30" y1="97.40" x2="515.90" y2="97.40" stroke="#111" stroke-width="0.9" />
<circle cx="513.1" cy="90.3" r="1.55" fill="none" stroke="#000" stroke-width="0.78"/>
<circle cx="510.1" cy="96.9" r="1.55" fill="none" stroke="#000" stroke-width="0.78"/>
<circle cx="515.8" cy="96.9" r="1.55" fill="none" stroke="#000" stroke-width="0.78"/>
<line x1="534.00" y1="94.40" x2="534.00" y2="99.70" stroke="#111" stroke-width="0.9" />
<line x1="531.20" y1="94.40" x2="536.80" y2="94.40" stroke="#111" stroke-width="0.9" />
<line x1="531.20" y1="99.70" x2="536.80" y2="99.70" stroke="#111" stroke-width="0.9" />
<circle cx="531.6" cy="94.4" r="1.55" fill="none" stroke="#000" stroke-width="0.78"/>
<circle cx="536.8" cy="96.3" r="1.55" fill="none" stroke="#000" stroke-width="0.78"/>
<circle cx="533.8" cy="99.9" r="1.55" fill="none" stroke="#000" stroke-width="0.78"/>
<line x1="555.50" y1="56.30" x2="555.50" y2="82.40" stroke="#111" stroke-width="0.9" />
<line x1="552.00" y1="56.30" x2="559.00" y2="56.30" stroke="#111" stroke-width="0.9" />
<line x1="552.00" y1="82.40" x2="559.00" y2="82.40" stroke="#111" stroke-width="0.9" />
<circle cx="555.5" cy="58.7" r="1.55" fill="none" stroke="#000" stroke-width="0.78"/>
<circle cx="555.5" cy="65.0" r="1.55" fill="none" stroke="#000" stroke-width="0.78"/>
<circle cx="555.5" cy="84.1" r="1.55" fill="none" stroke="#000" stroke-width="0.78"/>
<path d="M492.2,48.8 V45.2 H555.4 V48.8" fill="none" stroke="#000" stroke-width="1" stroke-linejoin="miter"/>
<text x="523.6" y="45.2" font-size="9.7" text-anchor="middle" fill="#000" >**</text>
<path d="M492.2,69.0 V65.4 H534.6 V69.0" fill="none" stroke="#000" stroke-width="1" stroke-linejoin="miter"/>
<text x="513.4" y="62.6" font-size="9.7" text-anchor="middle" fill="#000" >*</text>
<path d="M492.2,85.4 V81.8 H513.0 V85.4" fill="none" stroke="#000" stroke-width="1" stroke-linejoin="miter"/>
<text x="502.5" y="81.8" font-size="9.7" text-anchor="middle" fill="#000" >*</text>
<text x="573.3" y="21" font-size="14" font-weight="bold" fill="#000">e</text>
<rect x="630.6" y="98.1" width="17.1" height="27.4" fill="#d4d4d4"/>
<rect x="656.3" y="65.6" width="17.7" height="59.9" fill="#79f4db"/>
<line x1="621.20" y1="33.45" x2="621.20" y2="125.95" stroke="#111" stroke-width="1.0" />
<line x1="617.50" y1="34.20" x2="621.20" y2="34.20" stroke="#111" stroke-width="1.0" />
<text x="616.3" y="36.9" font-size="7.550000000000001" text-anchor="end" fill="#111" >2000</text>
<line x1="617.50" y1="57.03" x2="621.20" y2="57.03" stroke="#111" stroke-width="1.0" />
<text x="616.3" y="59.7" font-size="7.550000000000001" text-anchor="end" fill="#111" >1500</text>
<line x1="617.50" y1="79.85" x2="621.20" y2="79.85" stroke="#111" stroke-width="1.0" />
<text x="616.3" y="82.5" font-size="7.550000000000001" text-anchor="end" fill="#111" >1000</text>
<line x1="617.50" y1="102.67" x2="621.20" y2="102.67" stroke="#111" stroke-width="1.0" />
<text x="616.3" y="105.4" font-size="7.550000000000001" text-anchor="end" fill="#111" >500</text>
<line x1="617.50" y1="125.50" x2="621.20" y2="125.50" stroke="#111" stroke-width="1.0" />
<text x="616.3" y="128.2" font-size="7.550000000000001" text-anchor="end" fill="#111" >0</text>
<line x1="620.75" y1="125.40" x2="683.00" y2="125.40" stroke="#111" stroke-width="1.0" />
<line x1="639.10" y1="125.40" x2="639.10" y2="128.60" stroke="#111" stroke-width="1.0" />
<text x="639.1" y="136.4" font-size="7.4" text-anchor="middle" fill="#111" >DMSO</text>
<line x1="665.10" y1="125.40" x2="665.10" y2="128.60" stroke="#111" stroke-width="1.0" />
<text x="665.1" y="136.4" font-size="7.4" text-anchor="middle" fill="#111" >OI</text>
<text transform="translate(584.6,79.3) rotate(-90)" font-size="7.4" text-anchor="middle" fill="#111" >VSV Titers</text>
<text transform="translate(595.6,79.3) rotate(-90)" font-size="7.4" text-anchor="middle" fill="#111">(×10<tspan font-size="5.4" dy="-3">4</tspan><tspan dy="3"> TCID50</tspan><tspan font-size="5.4" dy="-3">-ml</tspan><tspan dy="3">)</tspan></text>
<line x1="639.10" y1="96.30" x2="639.10" y2="98.60" stroke="#555" stroke-width="0.8" />
<line x1="635.90" y1="96.30" x2="642.30" y2="96.30" stroke="#555" stroke-width="0.8" />
<line x1="635.90" y1="98.60" x2="642.30" y2="98.60" stroke="#555" stroke-width="0.8" />
<circle cx="634.4" cy="96.9" r="1.4" fill="none" stroke="#000" stroke-width="0.78"/>
<circle cx="639.6" cy="96.8" r="1.4" fill="none" stroke="#000" stroke-width="0.78"/>
<circle cx="644.6" cy="97.6" r="1.4" fill="none" stroke="#000" stroke-width="0.78"/>
<line x1="665.10" y1="51.50" x2="665.10" y2="79.70" stroke="#555" stroke-width="0.8" />
<line x1="660.70" y1="51.50" x2="669.50" y2="51.50" stroke="#555" stroke-width="0.8" />
<line x1="660.70" y1="79.70" x2="669.50" y2="79.70" stroke="#555" stroke-width="0.8" />
<circle cx="665.1" cy="52.5" r="1.55" fill="none" stroke="#000" stroke-width="0.78"/>
<circle cx="665.1" cy="63.5" r="1.55" fill="none" stroke="#000" stroke-width="0.78"/>
<circle cx="665.1" cy="79.5" r="1.55" fill="none" stroke="#000" stroke-width="0.78"/>
<path d="M638.8,47.5 V43.9 H665.5 V47.5" fill="none" stroke="#000" stroke-width="1" stroke-linejoin="miter"/>
<text x="652.2" y="43.9" font-size="9.7" text-anchor="middle" fill="#000" >***</text>
<text x="1.1" y="188" font-size="14" font-weight="bold" fill="#000">f</text>
<text x="55.1" y="192.4" font-size="7.6" text-anchor="middle" fill="#111" >DMSO</text>
<text x="134.7" y="192.4" font-size="7.6" text-anchor="middle" fill="#111" >OI</text>
<defs><filter id="nz" x="0" y="0" width="100%" height="100%" color-interpolation-filters="sRGB"><feTurbulence type="fractalNoise" baseFrequency="1.1" numOctaves="1" seed="3" result="n"/><feColorMatrix in="n" type="matrix" values="0.09 0 0 0 0.418  0.09 0 0 0 0.418  0.09 0 0 0 0.418  0 0 0 0 1"/><feComposite operator="in" in2="SourceGraphic"/></filter><filter id="gb" x="-5%" y="-5%" width="110%" height="110%"><feGaussianBlur stdDeviation="0.35"/></filter></defs>
<rect x="10.7" y="196.0" width="163.3" height="241.2" fill="#767676" filter="url(#nz)"/>
<g filter="url(#gb)">
<circle cx="15.6" cy="238.1" r="0.47" fill="#55e62e" fill-opacity="0.50"/>
<circle cx="33.7" cy="219.1" r="0.48" fill="#55e62e" fill-opacity="0.51"/>
<circle cx="12.5" cy="223.7" r="0.36" fill="#55e62e" fill-opacity="0.34"/>
<circle cx="20.2" cy="199.5" r="0.52" fill="#55e62e" fill-opacity="0.56"/>
<circle cx="21.2" cy="210.9" r="0.40" fill="#55e62e" fill-opacity="0.39"/>
<circle cx="81.1" cy="200.8" r="0.41" fill="#55e62e" fill-opacity="0.41"/>
<circle cx="55.1" cy="249.0" r="0.54" fill="#55e62e" fill-opacity="0.59"/>
<circle cx="80.5" cy="212.7" r="0.40" fill="#55e62e" fill-opacity="0.40"/>
<circle cx="39.7" cy="249.1" r="0.60" fill="#55e62e" fill-opacity="0.68"/>
<circle cx="22.9" cy="206.6" r="0.37" fill="#55e62e" fill-opacity="0.35"/>
<circle cx="29.6" cy="225.1" r="0.45" fill="#55e62e" fill-opacity="0.47"/>
<circle cx="44.6" cy="218.2" r="0.44" fill="#55e62e" fill-opacity="0.46"/>
<circle cx="87.7" cy="237.4" r="0.43" fill="#55e62e" fill-opacity="0.44"/>
<circle cx="60.6" cy="236.6" r="0.35" fill="#55e62e" fill-opacity="0.32"/>
<circle cx="83.4" cy="242.8" r="0.56" fill="#55e62e" fill-opacity="0.62"/>
<circle cx="75.2" cy="219.5" r="0.40" fill="#55e62e" fill-opacity="0.40"/>
<circle cx="19.1" cy="234.1" r="0.35" fill="#55e62e" fill-opacity="0.32"/>
<circle cx="16.1" cy="208.5" r="0.36" fill="#55e62e" fill-opacity="0.34"/>
<circle cx="38.2" cy="199.2" r="0.34" fill="#55e62e" fill-opacity="0.31"/>
<circle cx="22.9" cy="202.1" r="0.39" fill="#55e62e" fill-opacity="0.39"/>
<circle cx="12.8" cy="248.5" r="0.46" fill="#55e62e" fill-opacity="0.48"/>
<circle cx="22.7" cy="211.1" r="0.39" fill="#55e62e" fill-opacity="0.38"/>
<circle cx="143.2" cy="204.3" r="0.49" fill="#55e62e" fill-opacity="0.53"/>
<circle cx="137.7" cy="213.6" r="0.42" fill="#55e62e" fill-opacity="0.42"/>
<circle cx="164.6" cy="210.1" r="0.52" fill="#55e62e" fill-opacity="0.57"/>
<circle cx="136.8" cy="241.8" r="0.81" fill="#55e62e" fill-opacity="0.97"/>
<circle cx="137.7" cy="250.9" r="0.39" fill="#55e62e" fill-opacity="0.39"/>
<circle cx="132.6" cy="237.5" r="0.41" fill="#55e62e" fill-opacity="0.41"/>
<circle cx="103.3" cy="232.2" r="0.69" fill="#55e62e" fill-opacity="0.81"/>
<circle cx="144.4" cy="208.7" r="0.36" fill="#55e62e" fill-opacity="0.35"/>
<circle cx="159.6" cy="220.1" r="0.79" fill="#55e62e" fill-opacity="0.95"/>
<circle cx="150.6" cy="211.0" r="0.40" fill="#55e62e" fill-opacity="0.40"/>
<circle cx="162.4" cy="224.3" r="0.59" fill="#55e62e" fill-opacity="0.66"/>
<circle cx="128.2" cy="206.4" r="0.67" fill="#55e62e" fill-opacity="0.77"/>
<circle cx="154.2" cy="225.9" r="0.44" fill="#55e62e" fill-opacity="0.45"/>
<circle cx="145.4" cy="236.9" r="0.79" fill="#55e62e" fill-opacity="0.94"/>
<circle cx="152.4" cy="210.2" r="0.75" fill="#55e62e" fill-opacity="0.89"/>
<circle cx="157.8" cy="201.5" r="0.59" fill="#55e62e" fill-opacity="0.66"/>
<circle cx="132.5" cy="241.5" r="0.81" fill="#55e62e" fill-opacity="0.97"/>
<circle cx="135.9" cy="239.3" r="0.73" fill="#55e62e" fill-opacity="0.86"/>
<circle cx="149.9" cy="211.5" r="0.41" fill="#55e62e" fill-opacity="0.41"/>
<circle cx="147.2" cy="209.8" r="0.76" fill="#55e62e" fill-opacity="0.90"/>
<circle cx="122.5" cy="212.6" r="0.47" fill="#55e62e" fill-opacity="0.50"/>
<circle cx="133.6" cy="227.9" r="0.52" fill="#55e62e" fill-opacity="0.56"/>
<circle cx="145.4" cy="218.4" r="0.68" fill="#55e62e" fill-opacity="0.79"/>
<circle cx="142.6" cy="211.7" r="0.44" fill="#55e62e" fill-opacity="0.45"/>
<circle cx="132.4" cy="239.1" r="0.54" fill="#55e62e" fill-opacity="0.59"/>
<circle cx="160.8" cy="209.3" r="0.54" fill="#55e62e" fill-opacity="0.59"/>
<circle cx="139.5" cy="235.8" r="0.51" fill="#55e62e" fill-opacity="0.55"/>
<circle cx="132.1" cy="249.1" r="0.50" fill="#55e62e" fill-opacity="0.54"/>
<circle cx="149.6" cy="248.6" r="0.78" fill="#55e62e" fill-opacity="0.93"/>
<circle cx="139.2" cy="238.3" r="0.38" fill="#55e62e" fill-opacity="0.38"/>
<circle cx="153.0" cy="219.6" r="0.37" fill="#55e62e" fill-opacity="0.36"/>
<circle cx="169.8" cy="244.6" r="0.62" fill="#55e62e" fill-opacity="0.71"/>
<circle cx="161.6" cy="203.7" r="0.41" fill="#55e62e" fill-opacity="0.41"/>
<circle cx="125.3" cy="225.2" r="0.82" fill="#55e62e" fill-opacity="0.99"/>
<circle cx="143.4" cy="210.5" r="0.44" fill="#55e62e" fill-opacity="0.46"/>
<circle cx="159.8" cy="213.2" r="0.53" fill="#55e62e" fill-opacity="0.59"/>
<circle cx="130.6" cy="215.7" r="0.51" fill="#55e62e" fill-opacity="0.56"/>
<circle cx="101.9" cy="227.6" r="0.38" fill="#55e62e" fill-opacity="0.37"/>
<circle cx="134.7" cy="209.7" r="0.38" fill="#55e62e" fill-opacity="0.37"/>
<circle cx="158.9" cy="226.4" r="0.39" fill="#55e62e" fill-opacity="0.38"/>
<circle cx="139.2" cy="238.0" r="0.37" fill="#55e62e" fill-opacity="0.36"/>
<circle cx="136.3" cy="248.5" r="0.78" fill="#55e62e" fill-opacity="0.93"/>
<circle cx="143.0" cy="251.8" r="0.53" fill="#55e62e" fill-opacity="0.58"/>
<circle cx="114.7" cy="203.8" r="0.52" fill="#55e62e" fill-opacity="0.57"/>
<circle cx="134.8" cy="212.8" r="0.40" fill="#55e62e" fill-opacity="0.40"/>
<circle cx="160.2" cy="210.7" r="0.51" fill="#55e62e" fill-opacity="0.55"/>
<circle cx="163.8" cy="214.3" r="0.36" fill="#55e62e" fill-opacity="0.34"/>
<circle cx="133.7" cy="245.2" r="0.78" fill="#55e62e" fill-opacity="0.93"/>
<circle cx="141.5" cy="252.4" r="0.70" fill="#55e62e" fill-opacity="0.82"/>
<circle cx="132.0" cy="204.9" r="0.44" fill="#55e62e" fill-opacity="0.46"/>
<circle cx="134.7" cy="245.7" r="0.45" fill="#55e62e" fill-opacity="0.46"/>
<circle cx="141.4" cy="214.1" r="0.42" fill="#55e62e" fill-opacity="0.42"/>
<circle cx="139.5" cy="206.9" r="0.60" fill="#55e62e" fill-opacity="0.67"/>
<circle cx="148.2" cy="212.2" r="0.39" fill="#55e62e" fill-opacity="0.38"/>
<circle cx="173.0" cy="211.4" r="0.53" fill="#55e62e" fill-opacity="0.58"/>
<circle cx="150.9" cy="239.0" r="0.36" fill="#55e62e" fill-opacity="0.34"/>
<circle cx="137.0" cy="217.9" r="0.51" fill="#55e62e" fill-opacity="0.55"/>
<circle cx="164.3" cy="216.2" r="0.36" fill="#55e62e" fill-opacity="0.35"/>
<circle cx="160.7" cy="219.3" r="0.52" fill="#55e62e" fill-opacity="0.57"/>
<circle cx="135.8" cy="242.0" r="0.46" fill="#55e62e" fill-opacity="0.48"/>
<circle cx="102.8" cy="243.2" r="0.58" fill="#55e62e" fill-opacity="0.65"/>
<circle cx="158.7" cy="248.4" r="0.63" fill="#55e62e" fill-opacity="0.73"/>
<circle cx="143.0" cy="208.5" r="0.70" fill="#55e62e" fill-opacity="0.82"/>
<circle cx="135.4" cy="247.8" r="0.60" fill="#55e62e" fill-opacity="0.68"/>
<circle cx="153.1" cy="209.3" r="0.45" fill="#55e62e" fill-opacity="0.47"/>
<circle cx="139.5" cy="249.5" r="0.57" fill="#55e62e" fill-opacity="0.64"/>
<circle cx="166.4" cy="218.2" r="0.64" fill="#55e62e" fill-opacity="0.74"/>
<circle cx="131.2" cy="239.8" r="0.64" fill="#55e62e" fill-opacity="0.73"/>
<circle cx="133.2" cy="216.8" r="0.40" fill="#55e62e" fill-opacity="0.40"/>
<circle cx="97.1" cy="238.1" r="0.50" fill="#55e62e" fill-opacity="0.54"/>
<circle cx="163.7" cy="242.2" r="0.37" fill="#55e62e" fill-opacity="0.36"/>
<circle cx="149.8" cy="206.4" r="0.54" fill="#55e62e" fill-opacity="0.59"/>
<circle cx="133.1" cy="216.4" r="0.61" fill="#55e62e" fill-opacity="0.69"/>
<circle cx="154.4" cy="213.5" r="0.49" fill="#55e62e" fill-opacity="0.53"/>
<circle cx="165.4" cy="253.0" r="0.78" fill="#55e62e" fill-opacity="0.93"/>
<circle cx="158.4" cy="206.1" r="0.49" fill="#55e62e" fill-opacity="0.52"/>
<circle cx="153.9" cy="208.3" r="0.55" fill="#55e62e" fill-opacity="0.60"/>
<circle cx="134.0" cy="240.4" r="0.69" fill="#55e62e" fill-opacity="0.81"/>
<circle cx="152.5" cy="226.4" r="0.75" fill="#55e62e" fill-opacity="0.89"/>
<circle cx="139.8" cy="212.1" r="0.49" fill="#55e62e" fill-opacity="0.52"/>
<circle cx="147.1" cy="211.2" r="0.71" fill="#55e62e" fill-opacity="0.83"/>
<circle cx="169.1" cy="244.3" r="0.77" fill="#55e62e" fill-opacity="0.92"/>
<circle cx="152.1" cy="239.5" r="0.46" fill="#55e62e" fill-opacity="0.49"/>
<circle cx="140.7" cy="217.6" r="0.48" fill="#55e62e" fill-opacity="0.51"/>
<circle cx="141.6" cy="215.4" r="0.42" fill="#55e62e" fill-opacity="0.43"/>
<circle cx="113.2" cy="211.9" r="0.51" fill="#55e62e" fill-opacity="0.56"/>
<circle cx="170.0" cy="211.7" r="0.69" fill="#55e62e" fill-opacity="0.80"/>
<circle cx="169.1" cy="228.3" r="0.63" fill="#55e62e" fill-opacity="0.71"/>
<circle cx="161.6" cy="248.0" r="0.58" fill="#55e62e" fill-opacity="0.65"/>
<circle cx="136.3" cy="211.3" r="0.50" fill="#55e62e" fill-opacity="0.53"/>
<circle cx="159.1" cy="203.1" r="0.42" fill="#55e62e" fill-opacity="0.42"/>
<circle cx="155.3" cy="212.6" r="0.39" fill="#55e62e" fill-opacity="0.39"/>
<circle cx="155.8" cy="207.0" r="0.41" fill="#55e62e" fill-opacity="0.41"/>
<circle cx="154.6" cy="210.5" r="0.37" fill="#55e62e" fill-opacity="0.36"/>
<circle cx="138.6" cy="206.3" r="0.64" fill="#55e62e" fill-opacity="0.74"/>
<circle cx="133.5" cy="217.3" r="0.44" fill="#55e62e" fill-opacity="0.46"/>
<circle cx="162.5" cy="213.6" r="0.51" fill="#55e62e" fill-opacity="0.55"/>
<circle cx="151.4" cy="253.3" r="0.41" fill="#55e62e" fill-opacity="0.42"/>
<circle cx="167.4" cy="215.2" r="0.73" fill="#55e62e" fill-opacity="0.86"/>
<circle cx="131.3" cy="205.8" r="0.50" fill="#55e62e" fill-opacity="0.53"/>
<circle cx="125.1" cy="216.3" r="0.70" fill="#55e62e" fill-opacity="0.81"/>
<circle cx="155.1" cy="235.8" r="0.39" fill="#55e62e" fill-opacity="0.38"/>
<circle cx="145.5" cy="246.3" r="0.58" fill="#55e62e" fill-opacity="0.65"/>
<circle cx="141.8" cy="217.5" r="0.67" fill="#55e62e" fill-opacity="0.77"/>
<circle cx="148.8" cy="226.6" r="0.38" fill="#55e62e" fill-opacity="0.37"/>
<circle cx="131.4" cy="239.2" r="0.37" fill="#55e62e" fill-opacity="0.36"/>
<circle cx="129.8" cy="242.8" r="0.56" fill="#55e62e" fill-opacity="0.62"/>
<circle cx="147.7" cy="216.5" r="0.58" fill="#55e62e" fill-opacity="0.65"/>
<circle cx="145.9" cy="221.7" r="0.80" fill="#55e62e" fill-opacity="0.95"/>
<circle cx="165.8" cy="214.6" r="0.60" fill="#55e62e" fill-opacity="0.68"/>
<circle cx="143.2" cy="203.1" r="0.41" fill="#55e62e" fill-opacity="0.41"/>
<circle cx="153.3" cy="216.9" r="0.40" fill="#55e62e" fill-opacity="0.40"/>
<circle cx="165.3" cy="245.9" r="0.81" fill="#55e62e" fill-opacity="0.97"/>
<circle cx="150.7" cy="253.1" r="0.65" fill="#55e62e" fill-opacity="0.75"/>
<circle cx="147.3" cy="232.1" r="0.41" fill="#55e62e" fill-opacity="0.41"/>
<circle cx="140.7" cy="247.5" r="0.46" fill="#55e62e" fill-opacity="0.49"/>
<circle cx="100.6" cy="239.0" r="0.37" fill="#55e62e" fill-opacity="0.35"/>
<circle cx="169.5" cy="223.3" r="0.83" fill="#55e62e" fill-opacity="1.00"/>
<circle cx="119.7" cy="207.1" r="0.78" fill="#55e62e" fill-opacity="0.93"/>
<circle cx="131.5" cy="209.5" r="0.46" fill="#55e62e" fill-opacity="0.48"/>
<circle cx="154.9" cy="209.0" r="0.45" fill="#55e62e" fill-opacity="0.46"/>
<circle cx="103.0" cy="253.9" r="0.40" fill="#55e62e" fill-opacity="0.40"/>
<circle cx="153.7" cy="248.1" r="0.37" fill="#55e62e" fill-opacity="0.35"/>
<circle cx="162.9" cy="212.7" r="0.45" fill="#55e62e" fill-opacity="0.47"/>
<circle cx="126.3" cy="214.9" r="0.66" fill="#55e62e" fill-opacity="0.76"/>
<circle cx="144.4" cy="214.6" r="0.42" fill="#55e62e" fill-opacity="0.42"/>
<circle cx="149.9" cy="237.4" r="0.80" fill="#55e62e" fill-opacity="0.95"/>
<circle cx="159.1" cy="210.6" r="0.42" fill="#55e62e" fill-opacity="0.43"/>
<circle cx="172.9" cy="243.2" r="0.78" fill="#55e62e" fill-opacity="0.94"/>
<circle cx="135.1" cy="210.2" r="0.79" fill="#55e62e" fill-opacity="0.95"/>
<circle cx="143.7" cy="210.5" r="0.77" fill="#55e62e" fill-opacity="0.92"/>
<circle cx="167.5" cy="238.6" r="0.66" fill="#55e62e" fill-opacity="0.76"/>
<circle cx="158.0" cy="217.4" r="0.67" fill="#55e62e" fill-opacity="0.77"/>
<circle cx="150.1" cy="206.7" r="0.37" fill="#55e62e" fill-opacity="0.35"/>
<circle cx="126.9" cy="251.0" r="0.74" fill="#55e62e" fill-opacity="0.87"/>
<circle cx="114.5" cy="201.0" r="0.38" fill="#55e62e" fill-opacity="0.36"/>
<circle cx="134.5" cy="248.7" r="0.47" fill="#55e62e" fill-opacity="0.50"/>
<circle cx="137.9" cy="242.2" r="0.59" fill="#55e62e" fill-opacity="0.67"/>
<circle cx="147.2" cy="254.7" r="0.45" fill="#55e62e" fill-opacity="0.47"/>
<circle cx="150.1" cy="211.3" r="0.39" fill="#55e62e" fill-opacity="0.38"/>
<circle cx="130.1" cy="244.6" r="0.82" fill="#55e62e" fill-opacity="0.99"/>
<circle cx="153.1" cy="204.9" r="0.82" fill="#55e62e" fill-opacity="0.99"/>
<circle cx="154.7" cy="209.3" r="0.76" fill="#55e62e" fill-opacity="0.90"/>
<circle cx="162.4" cy="215.8" r="0.81" fill="#55e62e" fill-opacity="0.97"/>
<circle cx="138.3" cy="243.5" r="0.49" fill="#55e62e" fill-opacity="0.52"/>
<circle cx="169.8" cy="245.4" r="0.56" fill="#55e62e" fill-opacity="0.62"/>
<circle cx="147.8" cy="210.2" r="0.40" fill="#55e62e" fill-opacity="0.40"/>
<circle cx="130.4" cy="238.8" r="0.36" fill="#55e62e" fill-opacity="0.34"/>
<circle cx="139.7" cy="250.4" r="0.40" fill="#55e62e" fill-opacity="0.40"/>
<circle cx="133.7" cy="241.7" r="0.46" fill="#55e62e" fill-opacity="0.49"/>
<circle cx="134.0" cy="242.3" r="0.61" fill="#55e62e" fill-opacity="0.69"/>
<circle cx="155.6" cy="223.3" r="0.43" fill="#55e62e" fill-opacity="0.44"/>
<circle cx="151.4" cy="218.0" r="0.83" fill="#55e62e" fill-opacity="1.00"/>
<circle cx="149.4" cy="207.0" r="0.36" fill="#55e62e" fill-opacity="0.34"/>
<circle cx="127.3" cy="245.2" r="0.47" fill="#55e62e" fill-opacity="0.49"/>
<circle cx="146.1" cy="218.7" r="0.53" fill="#55e62e" fill-opacity="0.58"/>
<circle cx="169.2" cy="237.9" r="0.45" fill="#55e62e" fill-opacity="0.47"/>
<circle cx="148.5" cy="212.6" r="0.77" fill="#55e62e" fill-opacity="0.92"/>
<circle cx="155.6" cy="205.7" r="0.40" fill="#55e62e" fill-opacity="0.40"/>
<circle cx="168.6" cy="230.6" r="0.37" fill="#55e62e" fill-opacity="0.35"/>
<circle cx="124.4" cy="250.3" r="0.57" fill="#55e62e" fill-opacity="0.63"/>
<circle cx="150.9" cy="206.9" r="0.47" fill="#55e62e" fill-opacity="0.49"/>
<circle cx="152.3" cy="252.9" r="0.47" fill="#55e62e" fill-opacity="0.49"/>
<circle cx="162.7" cy="216.1" r="0.63" fill="#55e62e" fill-opacity="0.72"/>
<circle cx="126.2" cy="210.1" r="0.36" fill="#55e62e" fill-opacity="0.35"/>
<circle cx="128.9" cy="209.8" r="0.57" fill="#55e62e" fill-opacity="0.64"/>
<circle cx="134.0" cy="215.4" r="0.59" fill="#55e62e" fill-opacity="0.66"/>
<circle cx="161.5" cy="219.0" r="0.50" fill="#55e62e" fill-opacity="0.54"/>
<circle cx="168.8" cy="241.6" r="0.39" fill="#55e62e" fill-opacity="0.39"/>
<circle cx="137.7" cy="214.3" r="0.37" fill="#55e62e" fill-opacity="0.36"/>
<circle cx="161.5" cy="219.8" r="0.37" fill="#55e62e" fill-opacity="0.36"/>
<circle cx="166.7" cy="245.9" r="0.51" fill="#55e62e" fill-opacity="0.55"/>
<circle cx="170.5" cy="243.9" r="0.83" fill="#55e62e" fill-opacity="1.00"/>
<circle cx="161.2" cy="229.6" r="0.67" fill="#55e62e" fill-opacity="0.78"/>
<circle cx="98.3" cy="217.1" r="0.65" fill="#55e62e" fill-opacity="0.75"/>
<circle cx="151.5" cy="246.5" r="0.39" fill="#55e62e" fill-opacity="0.38"/>
<circle cx="157.4" cy="238.0" r="0.51" fill="#55e62e" fill-opacity="0.55"/>
<circle cx="135.2" cy="213.6" r="0.78" fill="#55e62e" fill-opacity="0.93"/>
<circle cx="165.3" cy="244.2" r="0.38" fill="#55e62e" fill-opacity="0.37"/>
<circle cx="126.8" cy="247.3" r="0.53" fill="#55e62e" fill-opacity="0.59"/>
<circle cx="147.8" cy="214.3" r="0.82" fill="#55e62e" fill-opacity="0.99"/>
<circle cx="160.5" cy="209.7" r="0.39" fill="#55e62e" fill-opacity="0.39"/>
<circle cx="135.6" cy="209.9" r="0.58" fill="#55e62e" fill-opacity="0.65"/>
<circle cx="140.5" cy="235.8" r="0.43" fill="#55e62e" fill-opacity="0.44"/>
<circle cx="138.1" cy="215.3" r="0.48" fill="#55e62e" fill-opacity="0.51"/>
<circle cx="160.8" cy="236.2" r="0.59" fill="#55e62e" fill-opacity="0.66"/>
<circle cx="132.5" cy="213.1" r="0.45" fill="#55e62e" fill-opacity="0.47"/>
<circle cx="129.7" cy="239.6" r="0.57" fill="#55e62e" fill-opacity="0.64"/>
<circle cx="154.1" cy="208.1" r="0.39" fill="#55e62e" fill-opacity="0.38"/>
<circle cx="136.8" cy="235.9" r="0.47" fill="#55e62e" fill-opacity="0.49"/>
<circle cx="130.1" cy="209.0" r="0.45" fill="#55e62e" fill-opacity="0.46"/>
<circle cx="163.0" cy="214.9" r="0.41" fill="#55e62e" fill-opacity="0.42"/>
<circle cx="96.6" cy="227.9" r="0.47" fill="#55e62e" fill-opacity="0.49"/>
<circle cx="134.1" cy="211.5" r="0.53" fill="#55e62e" fill-opacity="0.58"/>
<circle cx="104.5" cy="208.0" r="0.56" fill="#55e62e" fill-opacity="0.62"/>
<circle cx="133.0" cy="238.7" r="0.43" fill="#55e62e" fill-opacity="0.44"/>
<circle cx="140.7" cy="208.6" r="0.62" fill="#55e62e" fill-opacity="0.71"/>
<circle cx="149.7" cy="247.6" r="0.64" fill="#55e62e" fill-opacity="0.73"/>
<circle cx="153.4" cy="210.3" r="0.36" fill="#55e62e" fill-opacity="0.35"/>
<circle cx="165.4" cy="238.7" r="0.62" fill="#55e62e" fill-opacity="0.71"/>
<circle cx="125.5" cy="243.8" r="0.52" fill="#55e62e" fill-opacity="0.56"/>
<circle cx="134.7" cy="240.4" r="0.74" fill="#55e62e" fill-opacity="0.87"/>
<circle cx="160.7" cy="220.6" r="0.78" fill="#55e62e" fill-opacity="0.94"/>
<circle cx="163.3" cy="211.6" r="0.41" fill="#55e62e" fill-opacity="0.41"/>
<circle cx="144.1" cy="237.6" r="0.59" fill="#55e62e" fill-opacity="0.67"/>
<circle cx="48.6" cy="306.7" r="0.45" fill="#55e62e" fill-opacity="0.47"/>
<circle cx="46.0" cy="299.8" r="0.42" fill="#55e62e" fill-opacity="0.42"/>
<circle cx="27.8" cy="293.6" r="0.35" fill="#55e62e" fill-opacity="0.32"/>
<circle cx="22.4" cy="257.6" r="0.35" fill="#55e62e" fill-opacity="0.33"/>
<circle cx="38.6" cy="264.6" r="0.34" fill="#55e62e" fill-opacity="0.32"/>
<circle cx="14.8" cy="308.5" r="0.46" fill="#55e62e" fill-opacity="0.48"/>
<circle cx="82.7" cy="260.0" r="0.50" fill="#55e62e" fill-opacity="0.53"/>
<circle cx="87.0" cy="262.5" r="0.36" fill="#55e62e" fill-opacity="0.34"/>
<circle cx="25.3" cy="307.5" r="0.43" fill="#55e62e" fill-opacity="0.44"/>
<circle cx="61.7" cy="273.4" r="0.35" fill="#55e62e" fill-opacity="0.33"/>
<circle cx="21.2" cy="314.5" r="0.39" fill="#55e62e" fill-opacity="0.38"/>
<circle cx="36.6" cy="314.2" r="0.40" fill="#55e62e" fill-opacity="0.40"/>
<circle cx="60.7" cy="257.9" r="0.39" fill="#55e62e" fill-opacity="0.38"/>
<circle cx="73.2" cy="276.9" r="0.45" fill="#55e62e" fill-opacity="0.47"/>
<circle cx="28.2" cy="308.1" r="0.35" fill="#55e62e" fill-opacity="0.32"/>
<circle cx="20.5" cy="312.0" r="0.40" fill="#55e62e" fill-opacity="0.40"/>
<circle cx="75.1" cy="267.1" r="0.40" fill="#55e62e" fill-opacity="0.40"/>
<circle cx="77.9" cy="271.7" r="0.52" fill="#55e62e" fill-opacity="0.57"/>
<circle cx="18.2" cy="308.7" r="0.35" fill="#55e62e" fill-opacity="0.33"/>
<circle cx="17.2" cy="303.6" r="0.45" fill="#55e62e" fill-opacity="0.47"/>
<circle cx="61.4" cy="277.5" r="0.39" fill="#55e62e" fill-opacity="0.38"/>
<circle cx="82.6" cy="261.2" r="0.50" fill="#55e62e" fill-opacity="0.54"/>
<circle cx="41.3" cy="309.4" r="0.36" fill="#55e62e" fill-opacity="0.34"/>
<circle cx="53.6" cy="301.6" r="0.46" fill="#55e62e" fill-opacity="0.49"/>
<circle cx="38.9" cy="275.7" r="0.35" fill="#55e62e" fill-opacity="0.33"/>
<circle cx="64.2" cy="300.8" r="0.35" fill="#55e62e" fill-opacity="0.33"/>
<circle cx="73.2" cy="291.0" r="0.35" fill="#55e62e" fill-opacity="0.33"/>
<circle cx="82.2" cy="270.4" r="0.36" fill="#55e62e" fill-opacity="0.34"/>
<circle cx="104.3" cy="310.0" r="0.37" fill="#55e62e" fill-opacity="0.36"/>
<circle cx="160.2" cy="279.6" r="0.41" fill="#55e62e" fill-opacity="0.41"/>
<circle cx="133.8" cy="280.4" r="0.69" fill="#55e62e" fill-opacity="0.81"/>
<circle cx="167.3" cy="279.1" r="0.56" fill="#55e62e" fill-opacity="0.63"/>
<circle cx="105.5" cy="290.9" r="0.38" fill="#55e62e" fill-opacity="0.37"/>
<circle cx="99.9" cy="295.1" r="0.54" fill="#55e62e" fill-opacity="0.60"/>
<circle cx="163.8" cy="299.8" r="0.50" fill="#55e62e" fill-opacity="0.54"/>
<circle cx="106.6" cy="309.8" r="0.49" fill="#55e62e" fill-opacity="0.52"/>
<circle cx="162.6" cy="287.9" r="0.64" fill="#55e62e" fill-opacity="0.74"/>
<circle cx="106.6" cy="308.6" r="0.52" fill="#55e62e" fill-opacity="0.56"/>
<circle cx="161.1" cy="278.4" r="0.44" fill="#55e62e" fill-opacity="0.45"/>
<circle cx="100.9" cy="309.9" r="0.44" fill="#55e62e" fill-opacity="0.45"/>
<circle cx="160.9" cy="303.9" r="0.67" fill="#55e62e" fill-opacity="0.78"/>
<circle cx="166.7" cy="293.1" r="0.46" fill="#55e62e" fill-opacity="0.48"/>
<circle cx="96.1" cy="288.8" r="0.37" fill="#55e62e" fill-opacity="0.36"/>
<circle cx="125.8" cy="284.4" r="0.49" fill="#55e62e" fill-opacity="0.53"/>
<circle cx="97.3" cy="310.8" r="0.61" fill="#55e62e" fill-opacity="0.70"/>
<circle cx="164.0" cy="278.9" r="0.54" fill="#55e62e" fill-opacity="0.59"/>
<circle cx="111.3" cy="315.0" r="0.42" fill="#55e62e" fill-opacity="0.42"/>
<circle cx="161.6" cy="280.5" r="0.44" fill="#55e62e" fill-opacity="0.45"/>
<circle cx="101.1" cy="312.3" r="0.38" fill="#55e62e" fill-opacity="0.38"/>
<circle cx="121.1" cy="283.8" r="0.60" fill="#55e62e" fill-opacity="0.67"/>
<circle cx="113.0" cy="295.8" r="0.60" fill="#55e62e" fill-opacity="0.68"/>
<circle cx="163.4" cy="297.4" r="0.69" fill="#55e62e" fill-opacity="0.81"/>
<circle cx="169.1" cy="289.0" r="0.45" fill="#55e62e" fill-opacity="0.47"/>
<circle cx="171.4" cy="307.0" r="0.42" fill="#55e62e" fill-opacity="0.42"/>
<circle cx="114.7" cy="278.7" r="0.39" fill="#55e62e" fill-opacity="0.38"/>
<circle cx="115.0" cy="292.1" r="0.40" fill="#55e62e" fill-opacity="0.39"/>
<circle cx="158.9" cy="280.7" r="0.52" fill="#55e62e" fill-opacity="0.56"/>
<circle cx="167.3" cy="275.7" r="0.36" fill="#55e62e" fill-opacity="0.34"/>
<circle cx="166.4" cy="303.4" r="0.37" fill="#55e62e" fill-opacity="0.35"/>
<circle cx="144.3" cy="256.9" r="0.35" fill="#55e62e" fill-opacity="0.33"/>
<circle cx="146.1" cy="271.1" r="0.36" fill="#55e62e" fill-opacity="0.34"/>
<circle cx="107.8" cy="289.3" r="0.37" fill="#55e62e" fill-opacity="0.36"/>
<circle cx="157.1" cy="266.1" r="0.65" fill="#55e62e" fill-opacity="0.75"/>
<circle cx="127.5" cy="298.6" r="0.59" fill="#55e62e" fill-opacity="0.66"/>
<circle cx="109.0" cy="297.8" r="0.47" fill="#55e62e" fill-opacity="0.50"/>
<circle cx="164.8" cy="275.7" r="0.39" fill="#55e62e" fill-opacity="0.39"/>
<circle cx="105.3" cy="292.0" r="0.45" fill="#55e62e" fill-opacity="0.47"/>
<circle cx="161.0" cy="299.1" r="0.63" fill="#55e62e" fill-opacity="0.72"/>
<circle cx="124.9" cy="307.0" r="0.53" fill="#55e62e" fill-opacity="0.58"/>
<circle cx="123.4" cy="281.3" r="0.69" fill="#55e62e" fill-opacity="0.81"/>
<circle cx="165.4" cy="297.9" r="0.51" fill="#55e62e" fill-opacity="0.55"/>
<circle cx="107.6" cy="309.8" r="0.47" fill="#55e62e" fill-opacity="0.49"/>
<circle cx="102.7" cy="277.7" r="0.51" fill="#55e62e" fill-opacity="0.55"/>
<circle cx="130.9" cy="309.4" r="0.47" fill="#55e62e" fill-opacity="0.50"/>
<circle cx="102.2" cy="293.2" r="0.48" fill="#55e62e" fill-opacity="0.51"/>
<circle cx="116.7" cy="306.0" r="0.43" fill="#55e62e" fill-opacity="0.44"/>
<circle cx="153.9" cy="279.5" r="0.52" fill="#55e62e" fill-opacity="0.57"/>
<circle cx="161.0" cy="283.8" r="0.50" fill="#55e62e" fill-opacity="0.53"/>
<circle cx="158.6" cy="307.6" r="0.65" fill="#55e62e" fill-opacity="0.74"/>
<circle cx="106.8" cy="292.3" r="0.38" fill="#55e62e" fill-opacity="0.37"/>
<circle cx="142.3" cy="295.7" r="0.59" fill="#55e62e" fill-opacity="0.67"/>
<circle cx="142.6" cy="293.2" r="0.51" fill="#55e62e" fill-opacity="0.56"/>
<circle cx="164.8" cy="295.2" r="0.53" fill="#55e62e" fill-opacity="0.58"/>
<circle cx="105.0" cy="311.8" r="0.35" fill="#55e62e" fill-opacity="0.33"/>
<circle cx="96.4" cy="268.6" r="0.61" fill="#55e62e" fill-opacity="0.69"/>
<circle cx="165.8" cy="304.1" r="0.44" fill="#55e62e" fill-opacity="0.45"/>
<circle cx="157.6" cy="270.9" r="0.35" fill="#55e62e" fill-opacity="0.33"/>
<circle cx="113.7" cy="295.7" r="0.49" fill="#55e62e" fill-opacity="0.53"/>
<circle cx="129.2" cy="256.9" r="0.43" fill="#55e62e" fill-opacity="0.43"/>
<circle cx="157.6" cy="283.6" r="0.43" fill="#55e62e" fill-opacity="0.44"/>
<circle cx="166.5" cy="302.3" r="0.35" fill="#55e62e" fill-opacity="0.33"/>
<circle cx="110.5" cy="314.6" r="0.36" fill="#55e62e" fill-opacity="0.34"/>
<circle cx="103.4" cy="257.1" r="0.56" fill="#55e62e" fill-opacity="0.62"/>
<circle cx="103.5" cy="311.6" r="0.58" fill="#55e62e" fill-opacity="0.65"/>
<circle cx="139.4" cy="304.3" r="0.51" fill="#55e62e" fill-opacity="0.56"/>
<circle cx="168.8" cy="297.1" r="0.69" fill="#55e62e" fill-opacity="0.81"/>
<circle cx="114.2" cy="292.4" r="0.61" fill="#55e62e" fill-opacity="0.69"/>
<circle cx="161.8" cy="277.0" r="0.63" fill="#55e62e" fill-opacity="0.72"/>
<circle cx="102.6" cy="294.9" r="0.44" fill="#55e62e" fill-opacity="0.46"/>
<circle cx="108.4" cy="289.3" r="0.52" fill="#55e62e" fill-opacity="0.57"/>
<circle cx="158.0" cy="285.8" r="0.68" fill="#55e62e" fill-opacity="0.79"/>
<circle cx="165.6" cy="301.0" r="0.70" fill="#55e62e" fill-opacity="0.82"/>
<circle cx="131.9" cy="310.7" r="0.70" fill="#55e62e" fill-opacity="0.82"/>
<circle cx="141.7" cy="274.6" r="0.44" fill="#55e62e" fill-opacity="0.45"/>
<circle cx="123.5" cy="297.4" r="0.50" fill="#55e62e" fill-opacity="0.54"/>
<circle cx="158.4" cy="273.1" r="0.35" fill="#55e62e" fill-opacity="0.33"/>
<circle cx="157.3" cy="275.2" r="0.65" fill="#55e62e" fill-opacity="0.74"/>
<circle cx="149.1" cy="298.6" r="0.49" fill="#55e62e" fill-opacity="0.52"/>
<circle cx="146.4" cy="300.3" r="0.66" fill="#55e62e" fill-opacity="0.77"/>
<circle cx="98.6" cy="290.2" r="0.38" fill="#55e62e" fill-opacity="0.37"/>
<circle cx="137.7" cy="298.6" r="0.54" fill="#55e62e" fill-opacity="0.59"/>
<circle cx="106.8" cy="297.0" r="0.59" fill="#55e62e" fill-opacity="0.67"/>
<circle cx="110.0" cy="287.2" r="0.39" fill="#55e62e" fill-opacity="0.38"/>
<circle cx="100.7" cy="268.6" r="0.45" fill="#55e62e" fill-opacity="0.47"/>
<circle cx="108.1" cy="293.8" r="0.55" fill="#55e62e" fill-opacity="0.60"/>
<circle cx="162.1" cy="303.2" r="0.37" fill="#55e62e" fill-opacity="0.36"/>
<circle cx="128.3" cy="288.4" r="0.52" fill="#55e62e" fill-opacity="0.56"/>
<circle cx="103.2" cy="290.4" r="0.47" fill="#55e62e" fill-opacity="0.50"/>
<circle cx="117.0" cy="291.6" r="0.46" fill="#55e62e" fill-opacity="0.48"/>
<circle cx="108.0" cy="288.9" r="0.68" fill="#55e62e" fill-opacity="0.79"/>
<circle cx="148.9" cy="305.3" r="0.35" fill="#55e62e" fill-opacity="0.33"/>
<circle cx="108.4" cy="292.5" r="0.48" fill="#55e62e" fill-opacity="0.52"/>
<circle cx="130.1" cy="313.2" r="0.66" fill="#55e62e" fill-opacity="0.76"/>
<circle cx="164.4" cy="300.8" r="0.69" fill="#55e62e" fill-opacity="0.81"/>
<circle cx="159.6" cy="287.4" r="0.53" fill="#55e62e" fill-opacity="0.58"/>
<circle cx="166.2" cy="291.0" r="0.71" fill="#55e62e" fill-opacity="0.84"/>
<circle cx="106.8" cy="294.8" r="0.66" fill="#55e62e" fill-opacity="0.76"/>
<circle cx="160.8" cy="258.8" r="0.59" fill="#55e62e" fill-opacity="0.66"/>
<circle cx="63.0" cy="375.9" r="0.35" fill="#55e62e" fill-opacity="0.33"/>
<circle cx="40.0" cy="366.3" r="0.40" fill="#55e62e" fill-opacity="0.40"/>
<circle cx="71.9" cy="322.8" r="0.41" fill="#55e62e" fill-opacity="0.41"/>
<circle cx="45.0" cy="341.3" r="0.39" fill="#55e62e" fill-opacity="0.38"/>
<circle cx="70.9" cy="348.5" r="0.38" fill="#55e62e" fill-opacity="0.37"/>
<circle cx="87.3" cy="371.2" r="0.63" fill="#55e62e" fill-opacity="0.73"/>
<circle cx="22.0" cy="343.4" r="0.36" fill="#55e62e" fill-opacity="0.34"/>
<circle cx="78.8" cy="354.4" r="0.45" fill="#55e62e" fill-opacity="0.46"/>
<circle cx="26.0" cy="368.6" r="0.37" fill="#55e62e" fill-opacity="0.35"/>
<circle cx="46.6" cy="336.1" r="0.37" fill="#55e62e" fill-opacity="0.35"/>
<circle cx="32.2" cy="341.3" r="0.37" fill="#55e62e" fill-opacity="0.36"/>
<circle cx="31.5" cy="369.6" r="0.46" fill="#55e62e" fill-opacity="0.48"/>
<circle cx="85.0" cy="359.6" r="0.45" fill="#55e62e" fill-opacity="0.47"/>
<circle cx="49.4" cy="344.6" r="0.71" fill="#55e62e" fill-opacity="0.84"/>
<circle cx="85.4" cy="322.3" r="0.40" fill="#55e62e" fill-opacity="0.40"/>
<circle cx="15.3" cy="360.3" r="0.40" fill="#55e62e" fill-opacity="0.40"/>
<circle cx="12.0" cy="365.1" r="0.41" fill="#55e62e" fill-opacity="0.42"/>
<circle cx="51.0" cy="336.7" r="0.38" fill="#55e62e" fill-opacity="0.36"/>
<circle cx="86.8" cy="367.1" r="0.37" fill="#55e62e" fill-opacity="0.35"/>
<circle cx="32.2" cy="366.1" r="0.36" fill="#55e62e" fill-opacity="0.34"/>
<circle cx="59.0" cy="348.1" r="0.38" fill="#55e62e" fill-opacity="0.37"/>
<circle cx="67.9" cy="365.4" r="0.49" fill="#55e62e" fill-opacity="0.53"/>
<circle cx="47.4" cy="336.9" r="0.56" fill="#55e62e" fill-opacity="0.62"/>
<circle cx="28.1" cy="373.0" r="0.63" fill="#55e62e" fill-opacity="0.72"/>
<circle cx="52.8" cy="338.6" r="0.64" fill="#55e62e" fill-opacity="0.73"/>
<circle cx="50.3" cy="337.7" r="0.37" fill="#55e62e" fill-opacity="0.36"/>
<circle cx="69.1" cy="348.1" r="0.44" fill="#55e62e" fill-opacity="0.46"/>
<circle cx="20.5" cy="359.6" r="0.61" fill="#55e62e" fill-opacity="0.69"/>
<circle cx="36.6" cy="359.4" r="0.42" fill="#55e62e" fill-opacity="0.43"/>
<circle cx="15.6" cy="369.1" r="0.69" fill="#55e62e" fill-opacity="0.80"/>
<circle cx="65.7" cy="335.3" r="0.35" fill="#55e62e" fill-opacity="0.33"/>
<circle cx="28.8" cy="327.4" r="0.36" fill="#55e62e" fill-opacity="0.34"/>
<circle cx="35.2" cy="368.3" r="0.55" fill="#55e62e" fill-opacity="0.60"/>
<circle cx="42.7" cy="337.9" r="0.47" fill="#55e62e" fill-opacity="0.50"/>
<circle cx="19.0" cy="368.9" r="0.55" fill="#55e62e" fill-opacity="0.61"/>
<circle cx="42.1" cy="341.2" r="0.40" fill="#55e62e" fill-opacity="0.39"/>
<circle cx="78.2" cy="339.0" r="0.63" fill="#55e62e" fill-opacity="0.72"/>
<circle cx="62.9" cy="345.6" r="0.61" fill="#55e62e" fill-opacity="0.69"/>
<circle cx="42.1" cy="341.8" r="0.62" fill="#55e62e" fill-opacity="0.70"/>
<circle cx="42.7" cy="373.3" r="0.58" fill="#55e62e" fill-opacity="0.66"/>
<circle cx="45.3" cy="344.7" r="0.71" fill="#55e62e" fill-opacity="0.83"/>
<circle cx="84.5" cy="365.6" r="0.62" fill="#55e62e" fill-opacity="0.71"/>
<circle cx="86.5" cy="334.2" r="0.39" fill="#55e62e" fill-opacity="0.38"/>
<circle cx="58.9" cy="351.7" r="0.36" fill="#55e62e" fill-opacity="0.34"/>
<circle cx="76.3" cy="336.2" r="0.70" fill="#55e62e" fill-opacity="0.82"/>
<circle cx="86.4" cy="354.6" r="0.60" fill="#55e62e" fill-opacity="0.68"/>
<circle cx="82.2" cy="318.5" r="0.52" fill="#55e62e" fill-opacity="0.56"/>
<circle cx="62.1" cy="352.9" r="0.67" fill="#55e62e" fill-opacity="0.78"/>
<circle cx="30.9" cy="347.8" r="0.44" fill="#55e62e" fill-opacity="0.45"/>
<circle cx="33.9" cy="334.8" r="0.52" fill="#55e62e" fill-opacity="0.57"/>
<circle cx="68.8" cy="346.7" r="0.39" fill="#55e62e" fill-opacity="0.39"/>
<circle cx="74.8" cy="337.2" r="0.37" fill="#55e62e" fill-opacity="0.35"/>
<circle cx="71.9" cy="338.2" r="0.36" fill="#55e62e" fill-opacity="0.34"/>
<circle cx="78.6" cy="353.2" r="0.49" fill="#55e62e" fill-opacity="0.52"/>
<circle cx="27.0" cy="359.3" r="0.45" fill="#55e62e" fill-opacity="0.47"/>
<circle cx="60.2" cy="344.7" r="0.40" fill="#55e62e" fill-opacity="0.40"/>
<circle cx="43.1" cy="340.7" r="0.50" fill="#55e62e" fill-opacity="0.53"/>
<circle cx="75.9" cy="334.3" r="0.48" fill="#55e62e" fill-opacity="0.52"/>
<circle cx="52.2" cy="340.7" r="0.58" fill="#55e62e" fill-opacity="0.65"/>
<circle cx="51.7" cy="337.9" r="0.36" fill="#55e62e" fill-opacity="0.34"/>
<circle cx="72.7" cy="334.6" r="0.38" fill="#55e62e" fill-opacity="0.38"/>
<circle cx="70.4" cy="325.7" r="0.41" fill="#55e62e" fill-opacity="0.41"/>
<circle cx="55.7" cy="342.8" r="0.61" fill="#55e62e" fill-opacity="0.69"/>
<circle cx="70.4" cy="361.3" r="0.58" fill="#55e62e" fill-opacity="0.64"/>
<circle cx="30.1" cy="361.6" r="0.37" fill="#55e62e" fill-opacity="0.35"/>
<circle cx="50.9" cy="374.5" r="0.49" fill="#55e62e" fill-opacity="0.52"/>
<circle cx="37.8" cy="365.1" r="0.42" fill="#55e62e" fill-opacity="0.43"/>
<circle cx="72.2" cy="333.5" r="0.43" fill="#55e62e" fill-opacity="0.44"/>
<circle cx="41.8" cy="335.8" r="0.59" fill="#55e62e" fill-opacity="0.66"/>
<circle cx="51.1" cy="343.2" r="0.38" fill="#55e62e" fill-opacity="0.36"/>
<circle cx="42.1" cy="338.6" r="0.36" fill="#55e62e" fill-opacity="0.34"/>
<circle cx="36.9" cy="367.3" r="0.62" fill="#55e62e" fill-opacity="0.70"/>
<circle cx="27.2" cy="342.2" r="0.66" fill="#55e62e" fill-opacity="0.76"/>
<circle cx="42.6" cy="339.1" r="0.67" fill="#55e62e" fill-opacity="0.77"/>
<circle cx="52.5" cy="357.8" r="0.43" fill="#55e62e" fill-opacity="0.43"/>
<circle cx="55.8" cy="355.8" r="0.54" fill="#55e62e" fill-opacity="0.59"/>
<circle cx="18.7" cy="339.0" r="0.43" fill="#55e62e" fill-opacity="0.44"/>
<circle cx="57.1" cy="369.5" r="0.69" fill="#55e62e" fill-opacity="0.81"/>
<circle cx="58.8" cy="328.9" r="0.41" fill="#55e62e" fill-opacity="0.42"/>
<circle cx="76.6" cy="326.7" r="0.41" fill="#55e62e" fill-opacity="0.41"/>
<circle cx="77.4" cy="347.4" r="0.36" fill="#55e62e" fill-opacity="0.35"/>
<circle cx="66.4" cy="366.0" r="0.71" fill="#55e62e" fill-opacity="0.83"/>
<circle cx="127.1" cy="325.8" r="0.43" fill="#55e62e" fill-opacity="0.43"/>
<circle cx="153.9" cy="368.9" r="0.57" fill="#55e62e" fill-opacity="0.64"/>
<circle cx="96.4" cy="341.2" r="0.67" fill="#55e62e" fill-opacity="0.78"/>
<circle cx="158.8" cy="366.1" r="0.71" fill="#55e62e" fill-opacity="0.83"/>
<circle cx="155.1" cy="371.5" r="0.53" fill="#55e62e" fill-opacity="0.58"/>
<circle cx="125.2" cy="362.6" r="0.54" fill="#55e62e" fill-opacity="0.60"/>
<circle cx="148.1" cy="347.4" r="0.38" fill="#55e62e" fill-opacity="0.37"/>
<circle cx="109.2" cy="337.4" r="0.56" fill="#55e62e" fill-opacity="0.63"/>
<circle cx="119.1" cy="359.6" r="0.45" fill="#55e62e" fill-opacity="0.47"/>
<circle cx="159.6" cy="346.6" r="0.55" fill="#55e62e" fill-opacity="0.61"/>
<circle cx="150.0" cy="367.1" r="0.74" fill="#55e62e" fill-opacity="0.88"/>
<circle cx="112.2" cy="371.5" r="0.41" fill="#55e62e" fill-opacity="0.42"/>
<circle cx="123.2" cy="367.9" r="0.75" fill="#55e62e" fill-opacity="0.89"/>
<circle cx="117.6" cy="352.8" r="0.80" fill="#55e62e" fill-opacity="0.95"/>
<circle cx="120.3" cy="373.0" r="0.63" fill="#55e62e" fill-opacity="0.71"/>
<circle cx="146.4" cy="334.1" r="0.67" fill="#55e62e" fill-opacity="0.78"/>
<circle cx="129.3" cy="342.0" r="0.81" fill="#55e62e" fill-opacity="0.97"/>
<circle cx="159.4" cy="370.1" r="0.46" fill="#55e62e" fill-opacity="0.48"/>
<circle cx="153.7" cy="346.8" r="0.45" fill="#55e62e" fill-opacity="0.46"/>
<circle cx="132.8" cy="343.3" r="0.36" fill="#55e62e" fill-opacity="0.35"/>
<circle cx="120.7" cy="325.8" r="0.62" fill="#55e62e" fill-opacity="0.70"/>
<circle cx="138.7" cy="336.3" r="0.48" fill="#55e62e" fill-opacity="0.51"/>
<circle cx="158.2" cy="326.0" r="0.45" fill="#55e62e" fill-opacity="0.46"/>
<circle cx="123.5" cy="374.3" r="0.40" fill="#55e62e" fill-opacity="0.40"/>
<circle cx="133.9" cy="330.1" r="0.49" fill="#55e62e" fill-opacity="0.52"/>
<circle cx="135.5" cy="347.2" r="0.40" fill="#55e62e" fill-opacity="0.40"/>
<circle cx="102.9" cy="347.4" r="0.53" fill="#55e62e" fill-opacity="0.58"/>
<circle cx="96.4" cy="332.8" r="0.54" fill="#55e62e" fill-opacity="0.59"/>
<circle cx="142.5" cy="340.9" r="0.71" fill="#55e62e" fill-opacity="0.84"/>
<circle cx="160.0" cy="370.1" r="0.45" fill="#55e62e" fill-opacity="0.47"/>
<circle cx="146.1" cy="341.1" r="0.41" fill="#55e62e" fill-opacity="0.41"/>
<circle cx="150.4" cy="371.0" r="0.76" fill="#55e62e" fill-opacity="0.90"/>
<circle cx="164.5" cy="368.4" r="0.38" fill="#55e62e" fill-opacity="0.37"/>
<circle cx="126.2" cy="331.0" r="0.45" fill="#55e62e" fill-opacity="0.46"/>
<circle cx="150.1" cy="362.4" r="0.71" fill="#55e62e" fill-opacity="0.83"/>
<circle cx="153.6" cy="368.2" r="0.76" fill="#55e62e" fill-opacity="0.90"/>
<circle cx="150.7" cy="318.8" r="0.36" fill="#55e62e" fill-opacity="0.35"/>
<circle cx="130.5" cy="344.6" r="0.36" fill="#55e62e" fill-opacity="0.35"/>
<circle cx="158.5" cy="374.6" r="0.54" fill="#55e62e" fill-opacity="0.60"/>
<circle cx="113.6" cy="342.7" r="0.60" fill="#55e62e" fill-opacity="0.68"/>
<circle cx="147.2" cy="330.0" r="0.42" fill="#55e62e" fill-opacity="0.43"/>
<circle cx="101.5" cy="327.0" r="0.41" fill="#55e62e" fill-opacity="0.41"/>
<circle cx="106.3" cy="338.7" r="0.64" fill="#55e62e" fill-opacity="0.74"/>
<circle cx="141.6" cy="371.1" r="0.70" fill="#55e62e" fill-opacity="0.82"/>
<circle cx="148.9" cy="336.9" r="0.77" fill="#55e62e" fill-opacity="0.92"/>
<circle cx="152.8" cy="366.5" r="0.57" fill="#55e62e" fill-opacity="0.64"/>
<circle cx="130.3" cy="333.0" r="0.51" fill="#55e62e" fill-opacity="0.56"/>
<circle cx="103.3" cy="362.4" r="0.37" fill="#55e62e" fill-opacity="0.35"/>
<circle cx="158.3" cy="332.2" r="0.53" fill="#55e62e" fill-opacity="0.58"/>
<circle cx="144.6" cy="349.3" r="0.41" fill="#55e62e" fill-opacity="0.42"/>
<circle cx="127.0" cy="341.1" r="0.43" fill="#55e62e" fill-opacity="0.44"/>
<circle cx="149.2" cy="362.8" r="0.41" fill="#55e62e" fill-opacity="0.41"/>
<circle cx="158.8" cy="364.2" r="0.43" fill="#55e62e" fill-opacity="0.44"/>
<circle cx="104.5" cy="350.4" r="0.44" fill="#55e62e" fill-opacity="0.45"/>
<circle cx="137.4" cy="362.3" r="0.39" fill="#55e62e" fill-opacity="0.39"/>
<circle cx="141.5" cy="344.3" r="0.66" fill="#55e62e" fill-opacity="0.76"/>
<circle cx="102.3" cy="333.9" r="0.45" fill="#55e62e" fill-opacity="0.47"/>
<circle cx="133.2" cy="342.9" r="0.61" fill="#55e62e" fill-opacity="0.70"/>
<circle cx="127.9" cy="345.0" r="0.45" fill="#55e62e" fill-opacity="0.47"/>
<circle cx="99.8" cy="359.7" r="0.81" fill="#55e62e" fill-opacity="0.98"/>
<circle cx="120.1" cy="339.4" r="0.40" fill="#55e62e" fill-opacity="0.39"/>
<circle cx="152.6" cy="334.8" r="0.57" fill="#55e62e" fill-opacity="0.64"/>
<circle cx="145.9" cy="331.6" r="0.41" fill="#55e62e" fill-opacity="0.42"/>
<circle cx="139.1" cy="327.7" r="0.43" fill="#55e62e" fill-opacity="0.44"/>
<circle cx="162.3" cy="356.6" r="0.39" fill="#55e62e" fill-opacity="0.39"/>
<circle cx="160.3" cy="361.2" r="0.44" fill="#55e62e" fill-opacity="0.45"/>
<circle cx="100.5" cy="332.3" r="0.53" fill="#55e62e" fill-opacity="0.58"/>
<circle cx="103.1" cy="329.4" r="0.54" fill="#55e62e" fill-opacity="0.59"/>
<circle cx="159.4" cy="359.0" r="0.75" fill="#55e62e" fill-opacity="0.89"/>
<circle cx="133.0" cy="346.6" r="0.39" fill="#55e62e" fill-opacity="0.38"/>
<circle cx="162.7" cy="369.7" r="0.39" fill="#55e62e" fill-opacity="0.38"/>
<circle cx="121.4" cy="370.5" r="0.48" fill="#55e62e" fill-opacity="0.51"/>
<circle cx="167.3" cy="366.2" r="0.72" fill="#55e62e" fill-opacity="0.84"/>
<circle cx="127.5" cy="333.5" r="0.59" fill="#55e62e" fill-opacity="0.67"/>
<circle cx="147.5" cy="370.6" r="0.59" fill="#55e62e" fill-opacity="0.67"/>
<circle cx="166.2" cy="326.3" r="0.43" fill="#55e62e" fill-opacity="0.44"/>
<circle cx="149.0" cy="368.7" r="0.37" fill="#55e62e" fill-opacity="0.36"/>
<circle cx="169.2" cy="364.0" r="0.72" fill="#55e62e" fill-opacity="0.85"/>
<circle cx="170.9" cy="353.8" r="0.69" fill="#55e62e" fill-opacity="0.80"/>
<circle cx="146.8" cy="363.3" r="0.54" fill="#55e62e" fill-opacity="0.60"/>
<circle cx="131.9" cy="355.5" r="0.43" fill="#55e62e" fill-opacity="0.44"/>
<circle cx="123.8" cy="370.3" r="0.60" fill="#55e62e" fill-opacity="0.68"/>
<circle cx="127.8" cy="334.1" r="0.55" fill="#55e62e" fill-opacity="0.60"/>
<circle cx="144.6" cy="364.0" r="0.38" fill="#55e62e" fill-opacity="0.37"/>
<circle cx="117.2" cy="369.6" r="0.72" fill="#55e62e" fill-opacity="0.85"/>
<circle cx="124.5" cy="338.1" r="0.50" fill="#55e62e" fill-opacity="0.54"/>
<circle cx="128.8" cy="337.7" r="0.51" fill="#55e62e" fill-opacity="0.56"/>
<circle cx="130.4" cy="340.3" r="0.48" fill="#55e62e" fill-opacity="0.51"/>
<circle cx="137.6" cy="359.6" r="0.65" fill="#55e62e" fill-opacity="0.75"/>
<circle cx="119.5" cy="368.6" r="0.70" fill="#55e62e" fill-opacity="0.82"/>
<circle cx="152.4" cy="337.1" r="0.66" fill="#55e62e" fill-opacity="0.76"/>
<circle cx="107.1" cy="329.3" r="0.45" fill="#55e62e" fill-opacity="0.47"/>
<circle cx="153.6" cy="370.1" r="0.62" fill="#55e62e" fill-opacity="0.70"/>
<circle cx="111.2" cy="365.8" r="0.54" fill="#55e62e" fill-opacity="0.59"/>
<circle cx="163.5" cy="326.5" r="0.64" fill="#55e62e" fill-opacity="0.74"/>
<circle cx="98.3" cy="319.5" r="0.38" fill="#55e62e" fill-opacity="0.37"/>
<circle cx="112.1" cy="325.4" r="0.37" fill="#55e62e" fill-opacity="0.35"/>
<circle cx="101.1" cy="349.5" r="0.68" fill="#55e62e" fill-opacity="0.79"/>
<circle cx="117.9" cy="367.9" r="0.40" fill="#55e62e" fill-opacity="0.40"/>
<circle cx="100.4" cy="326.8" r="0.36" fill="#55e62e" fill-opacity="0.34"/>
<circle cx="106.0" cy="333.8" r="0.43" fill="#55e62e" fill-opacity="0.43"/>
<circle cx="123.8" cy="325.1" r="0.73" fill="#55e62e" fill-opacity="0.86"/>
<circle cx="159.0" cy="354.6" r="0.36" fill="#55e62e" fill-opacity="0.34"/>
<circle cx="106.6" cy="338.9" r="0.68" fill="#55e62e" fill-opacity="0.79"/>
<circle cx="143.8" cy="330.8" r="0.46" fill="#55e62e" fill-opacity="0.49"/>
<circle cx="142.9" cy="334.0" r="0.73" fill="#55e62e" fill-opacity="0.86"/>
<circle cx="99.1" cy="336.3" r="0.40" fill="#55e62e" fill-opacity="0.40"/>
<circle cx="140.7" cy="319.0" r="0.39" fill="#55e62e" fill-opacity="0.39"/>
<circle cx="145.0" cy="363.7" r="0.45" fill="#55e62e" fill-opacity="0.46"/>
<circle cx="151.2" cy="366.9" r="0.49" fill="#55e62e" fill-opacity="0.52"/>
<circle cx="96.7" cy="325.2" r="0.60" fill="#55e62e" fill-opacity="0.67"/>
<circle cx="124.1" cy="339.0" r="0.54" fill="#55e62e" fill-opacity="0.60"/>
<circle cx="121.6" cy="370.0" r="0.54" fill="#55e62e" fill-opacity="0.59"/>
<circle cx="163.7" cy="363.2" r="0.58" fill="#55e62e" fill-opacity="0.64"/>
<circle cx="122.4" cy="333.4" r="0.67" fill="#55e62e" fill-opacity="0.78"/>
<circle cx="169.0" cy="357.6" r="0.43" fill="#55e62e" fill-opacity="0.44"/>
<circle cx="152.9" cy="347.1" r="0.58" fill="#55e62e" fill-opacity="0.64"/>
<circle cx="149.7" cy="367.0" r="0.44" fill="#55e62e" fill-opacity="0.46"/>
<circle cx="114.3" cy="370.3" r="0.41" fill="#55e62e" fill-opacity="0.41"/>
<circle cx="136.1" cy="339.5" r="0.73" fill="#55e62e" fill-opacity="0.86"/>
<circle cx="145.8" cy="364.2" r="0.39" fill="#55e62e" fill-opacity="0.39"/>
<circle cx="126.9" cy="348.0" r="0.53" fill="#55e62e" fill-opacity="0.58"/>
<circle cx="120.6" cy="372.0" r="0.55" fill="#55e62e" fill-opacity="0.61"/>
<circle cx="98.8" cy="330.4" r="0.45" fill="#55e62e" fill-opacity="0.47"/>
<circle cx="127.7" cy="368.8" r="0.37" fill="#55e62e" fill-opacity="0.36"/>
<circle cx="119.3" cy="372.3" r="0.36" fill="#55e62e" fill-opacity="0.34"/>
<circle cx="132.2" cy="335.0" r="0.47" fill="#55e62e" fill-opacity="0.49"/>
<circle cx="159.6" cy="360.6" r="0.40" fill="#55e62e" fill-opacity="0.40"/>
<circle cx="171.0" cy="352.7" r="0.37" fill="#55e62e" fill-opacity="0.36"/>
<circle cx="163.9" cy="337.0" r="0.38" fill="#55e62e" fill-opacity="0.38"/>
<circle cx="160.1" cy="361.0" r="0.77" fill="#55e62e" fill-opacity="0.91"/>
<circle cx="134.9" cy="330.3" r="0.47" fill="#55e62e" fill-opacity="0.49"/>
<circle cx="120.4" cy="319.9" r="0.47" fill="#55e62e" fill-opacity="0.50"/>
<circle cx="147.3" cy="371.0" r="0.56" fill="#55e62e" fill-opacity="0.62"/>
<circle cx="170.2" cy="367.0" r="0.54" fill="#55e62e" fill-opacity="0.59"/>
<circle cx="97.5" cy="353.5" r="0.63" fill="#55e62e" fill-opacity="0.72"/>
<circle cx="139.3" cy="341.8" r="0.66" fill="#55e62e" fill-opacity="0.76"/>
<circle cx="96.4" cy="330.9" r="0.55" fill="#55e62e" fill-opacity="0.61"/>
<circle cx="146.2" cy="363.3" r="0.64" fill="#55e62e" fill-opacity="0.73"/>
<circle cx="153.2" cy="357.4" r="0.43" fill="#55e62e" fill-opacity="0.44"/>
<circle cx="172.2" cy="343.8" r="0.42" fill="#55e62e" fill-opacity="0.43"/>
<circle cx="120.5" cy="370.3" r="0.50" fill="#55e62e" fill-opacity="0.53"/>
<circle cx="155.7" cy="338.3" r="0.82" fill="#55e62e" fill-opacity="0.99"/>
<circle cx="104.2" cy="328.6" r="0.38" fill="#55e62e" fill-opacity="0.37"/>
<circle cx="147.2" cy="364.9" r="0.78" fill="#55e62e" fill-opacity="0.93"/>
<circle cx="145.1" cy="347.8" r="0.77" fill="#55e62e" fill-opacity="0.91"/>
<circle cx="136.8" cy="334.6" r="0.82" fill="#55e62e" fill-opacity="0.98"/>
<circle cx="144.0" cy="373.4" r="0.49" fill="#55e62e" fill-opacity="0.52"/>
<circle cx="127.6" cy="373.1" r="0.37" fill="#55e62e" fill-opacity="0.35"/>
<circle cx="125.6" cy="368.6" r="0.37" fill="#55e62e" fill-opacity="0.35"/>
<circle cx="168.8" cy="360.1" r="0.57" fill="#55e62e" fill-opacity="0.64"/>
<circle cx="133.8" cy="345.4" r="0.41" fill="#55e62e" fill-opacity="0.41"/>
<circle cx="99.8" cy="324.7" r="0.83" fill="#55e62e" fill-opacity="0.99"/>
<circle cx="160.8" cy="374.3" r="0.73" fill="#55e62e" fill-opacity="0.86"/>
<circle cx="105.2" cy="324.3" r="0.44" fill="#55e62e" fill-opacity="0.45"/>
<circle cx="124.8" cy="373.9" r="0.56" fill="#55e62e" fill-opacity="0.62"/>
<circle cx="156.1" cy="363.7" r="0.74" fill="#55e62e" fill-opacity="0.87"/>
<circle cx="105.5" cy="325.6" r="0.72" fill="#55e62e" fill-opacity="0.85"/>
<circle cx="117.1" cy="317.9" r="0.38" fill="#55e62e" fill-opacity="0.37"/>
<circle cx="93.8" cy="371.5" r="0.39" fill="#55e62e" fill-opacity="0.38"/>
<circle cx="100.9" cy="326.6" r="0.60" fill="#55e62e" fill-opacity="0.68"/>
<circle cx="154.4" cy="334.3" r="0.74" fill="#55e62e" fill-opacity="0.87"/>
<circle cx="95.7" cy="330.6" r="0.67" fill="#55e62e" fill-opacity="0.78"/>
<circle cx="96.1" cy="346.9" r="0.41" fill="#55e62e" fill-opacity="0.41"/>
<circle cx="125.0" cy="372.4" r="0.38" fill="#55e62e" fill-opacity="0.38"/>
<circle cx="131.9" cy="335.9" r="0.64" fill="#55e62e" fill-opacity="0.73"/>
<circle cx="125.1" cy="344.6" r="0.76" fill="#55e62e" fill-opacity="0.91"/>
<circle cx="163.4" cy="336.5" r="0.63" fill="#55e62e" fill-opacity="0.72"/>
<circle cx="134.5" cy="341.3" r="0.37" fill="#55e62e" fill-opacity="0.35"/>
<circle cx="144.9" cy="364.3" r="0.36" fill="#55e62e" fill-opacity="0.34"/>
<circle cx="145.9" cy="349.3" r="0.53" fill="#55e62e" fill-opacity="0.58"/>
<circle cx="172.6" cy="369.2" r="0.62" fill="#55e62e" fill-opacity="0.71"/>
<circle cx="102.1" cy="346.8" r="0.46" fill="#55e62e" fill-opacity="0.48"/>
<circle cx="157.5" cy="364.3" r="0.56" fill="#55e62e" fill-opacity="0.63"/>
<circle cx="137.2" cy="341.8" r="0.71" fill="#55e62e" fill-opacity="0.83"/>
<circle cx="166.6" cy="319.4" r="0.61" fill="#55e62e" fill-opacity="0.69"/>
<circle cx="145.4" cy="364.7" r="0.81" fill="#55e62e" fill-opacity="0.97"/>
<circle cx="107.3" cy="323.2" r="0.55" fill="#55e62e" fill-opacity="0.61"/>
<circle cx="112.0" cy="354.4" r="0.64" fill="#55e62e" fill-opacity="0.74"/>
<circle cx="144.3" cy="369.8" r="0.56" fill="#55e62e" fill-opacity="0.63"/>
<circle cx="119.1" cy="354.4" r="0.53" fill="#55e62e" fill-opacity="0.58"/>
<circle cx="143.0" cy="365.2" r="0.41" fill="#55e62e" fill-opacity="0.41"/>
<circle cx="112.8" cy="369.3" r="0.52" fill="#55e62e" fill-opacity="0.57"/>
<circle cx="112.3" cy="326.8" r="0.69" fill="#55e62e" fill-opacity="0.81"/>
<circle cx="159.9" cy="356.6" r="0.73" fill="#55e62e" fill-opacity="0.85"/>
<circle cx="147.7" cy="329.4" r="0.38" fill="#55e62e" fill-opacity="0.37"/>
<circle cx="145.5" cy="342.4" r="0.68" fill="#55e62e" fill-opacity="0.79"/>
<circle cx="158.8" cy="368.6" r="0.83" fill="#55e62e" fill-opacity="1.00"/>
<circle cx="129.4" cy="345.3" r="0.68" fill="#55e62e" fill-opacity="0.79"/>
<circle cx="105.1" cy="357.5" r="0.45" fill="#55e62e" fill-opacity="0.47"/>
<circle cx="126.2" cy="343.0" r="0.46" fill="#55e62e" fill-opacity="0.48"/>
<circle cx="130.6" cy="338.1" r="0.39" fill="#55e62e" fill-opacity="0.39"/>
<circle cx="115.2" cy="336.0" r="0.41" fill="#55e62e" fill-opacity="0.41"/>
<circle cx="100.4" cy="354.8" r="0.72" fill="#55e62e" fill-opacity="0.85"/>
<circle cx="154.9" cy="359.3" r="0.45" fill="#55e62e" fill-opacity="0.47"/>
<circle cx="143.5" cy="371.9" r="0.43" fill="#55e62e" fill-opacity="0.44"/>
<circle cx="154.8" cy="361.7" r="0.46" fill="#55e62e" fill-opacity="0.48"/>
<circle cx="123.2" cy="356.6" r="0.44" fill="#55e62e" fill-opacity="0.45"/>
<circle cx="97.7" cy="332.2" r="0.51" fill="#55e62e" fill-opacity="0.55"/>
<circle cx="154.3" cy="317.9" r="0.55" fill="#55e62e" fill-opacity="0.61"/>
<circle cx="156.4" cy="361.6" r="0.50" fill="#55e62e" fill-opacity="0.53"/>
<circle cx="128.6" cy="346.1" r="0.51" fill="#55e62e" fill-opacity="0.56"/>
<circle cx="147.3" cy="361.1" r="0.47" fill="#55e62e" fill-opacity="0.49"/>
<circle cx="139.1" cy="363.2" r="0.66" fill="#55e62e" fill-opacity="0.76"/>
<circle cx="157.8" cy="344.2" r="0.38" fill="#55e62e" fill-opacity="0.36"/>
<circle cx="101.1" cy="327.3" r="0.60" fill="#55e62e" fill-opacity="0.68"/>
<circle cx="132.1" cy="319.7" r="0.61" fill="#55e62e" fill-opacity="0.69"/>
<circle cx="166.7" cy="365.9" r="0.73" fill="#55e62e" fill-opacity="0.86"/>
<circle cx="133.5" cy="338.9" r="0.82" fill="#55e62e" fill-opacity="0.99"/>
<circle cx="130.9" cy="343.2" r="0.72" fill="#55e62e" fill-opacity="0.85"/>
<circle cx="149.7" cy="366.8" r="0.43" fill="#55e62e" fill-opacity="0.44"/>
<circle cx="158.0" cy="368.1" r="0.42" fill="#55e62e" fill-opacity="0.42"/>
<circle cx="121.8" cy="337.7" r="0.49" fill="#55e62e" fill-opacity="0.53"/>
<circle cx="142.4" cy="372.7" r="0.40" fill="#55e62e" fill-opacity="0.40"/>
<circle cx="138.0" cy="319.5" r="0.43" fill="#55e62e" fill-opacity="0.45"/>
<circle cx="145.5" cy="364.2" r="0.42" fill="#55e62e" fill-opacity="0.43"/>
<circle cx="116.6" cy="359.3" r="0.68" fill="#55e62e" fill-opacity="0.79"/>
<circle cx="160.0" cy="363.8" r="0.73" fill="#55e62e" fill-opacity="0.87"/>
<circle cx="150.4" cy="364.8" r="0.72" fill="#55e62e" fill-opacity="0.85"/>
<circle cx="94.0" cy="328.1" r="0.60" fill="#55e62e" fill-opacity="0.68"/>
<circle cx="139.1" cy="336.1" r="0.76" fill="#55e62e" fill-opacity="0.91"/>
<circle cx="155.3" cy="344.9" r="0.79" fill="#55e62e" fill-opacity="0.94"/>
<circle cx="105.5" cy="319.8" r="0.61" fill="#55e62e" fill-opacity="0.69"/>
<circle cx="101.8" cy="331.5" r="0.55" fill="#55e62e" fill-opacity="0.61"/>
<circle cx="162.0" cy="375.1" r="0.44" fill="#55e62e" fill-opacity="0.45"/>
<circle cx="105.3" cy="364.7" r="0.81" fill="#55e62e" fill-opacity="0.98"/>
<circle cx="120.4" cy="344.9" r="0.41" fill="#55e62e" fill-opacity="0.41"/>
<circle cx="113.0" cy="341.1" r="0.48" fill="#55e62e" fill-opacity="0.51"/>
<circle cx="102.3" cy="366.4" r="0.38" fill="#55e62e" fill-opacity="0.37"/>
<circle cx="53.2" cy="394.4" r="0.43" fill="#55e62e" fill-opacity="0.44"/>
<circle cx="71.3" cy="406.8" r="0.68" fill="#55e62e" fill-opacity="0.78"/>
<circle cx="18.2" cy="406.1" r="0.64" fill="#55e62e" fill-opacity="0.73"/>
<circle cx="59.0" cy="409.5" r="0.37" fill="#55e62e" fill-opacity="0.36"/>
<circle cx="22.0" cy="393.2" r="0.66" fill="#55e62e" fill-opacity="0.76"/>
<circle cx="79.0" cy="390.5" r="0.67" fill="#55e62e" fill-opacity="0.78"/>
<circle cx="13.3" cy="413.0" r="0.70" fill="#55e62e" fill-opacity="0.82"/>
<circle cx="38.5" cy="433.8" r="0.54" fill="#55e62e" fill-opacity="0.59"/>
<circle cx="14.7" cy="396.9" r="0.46" fill="#55e62e" fill-opacity="0.48"/>
<circle cx="30.7" cy="421.6" r="0.39" fill="#55e62e" fill-opacity="0.38"/>
<circle cx="74.3" cy="394.8" r="0.37" fill="#55e62e" fill-opacity="0.35"/>
<circle cx="55.9" cy="382.6" r="0.50" fill="#55e62e" fill-opacity="0.53"/>
<circle cx="74.4" cy="412.8" r="0.46" fill="#55e62e" fill-opacity="0.49"/>
<circle cx="13.4" cy="407.8" r="0.37" fill="#55e62e" fill-opacity="0.36"/>
<circle cx="63.0" cy="384.8" r="0.51" fill="#55e62e" fill-opacity="0.55"/>
<circle cx="39.2" cy="399.4" r="0.54" fill="#55e62e" fill-opacity="0.60"/>
<circle cx="23.9" cy="387.0" r="0.68" fill="#55e62e" fill-opacity="0.79"/>
<circle cx="37.5" cy="427.7" r="0.64" fill="#55e62e" fill-opacity="0.74"/>
<circle cx="49.5" cy="385.8" r="0.37" fill="#55e62e" fill-opacity="0.36"/>
<circle cx="81.7" cy="383.9" r="0.48" fill="#55e62e" fill-opacity="0.50"/>
<circle cx="54.0" cy="383.9" r="0.47" fill="#55e62e" fill-opacity="0.49"/>
<circle cx="24.0" cy="409.1" r="0.48" fill="#55e62e" fill-opacity="0.51"/>
<circle cx="40.3" cy="388.7" r="0.45" fill="#55e62e" fill-opacity="0.46"/>
<circle cx="27.1" cy="384.5" r="0.40" fill="#55e62e" fill-opacity="0.40"/>
<circle cx="81.1" cy="407.1" r="0.65" fill="#55e62e" fill-opacity="0.75"/>
<circle cx="11.9" cy="433.8" r="0.47" fill="#55e62e" fill-opacity="0.50"/>
<circle cx="74.6" cy="411.3" r="0.55" fill="#55e62e" fill-opacity="0.61"/>
<circle cx="29.2" cy="422.1" r="0.38" fill="#55e62e" fill-opacity="0.37"/>
<circle cx="32.0" cy="378.7" r="0.44" fill="#55e62e" fill-opacity="0.46"/>
<circle cx="52.6" cy="394.4" r="0.65" fill="#55e62e" fill-opacity="0.75"/>
<circle cx="17.5" cy="411.7" r="0.40" fill="#55e62e" fill-opacity="0.40"/>
<circle cx="58.8" cy="424.2" r="0.56" fill="#55e62e" fill-opacity="0.63"/>
<circle cx="15.7" cy="391.6" r="0.51" fill="#55e62e" fill-opacity="0.56"/>
<circle cx="90.1" cy="379.3" r="0.52" fill="#55e62e" fill-opacity="0.57"/>
<circle cx="66.6" cy="426.0" r="0.43" fill="#55e62e" fill-opacity="0.44"/>
<circle cx="76.2" cy="404.7" r="0.67" fill="#55e62e" fill-opacity="0.78"/>
<circle cx="11.6" cy="433.6" r="0.45" fill="#55e62e" fill-opacity="0.46"/>
<circle cx="43.6" cy="382.1" r="0.40" fill="#55e62e" fill-opacity="0.40"/>
<circle cx="70.0" cy="417.8" r="0.38" fill="#55e62e" fill-opacity="0.37"/>
<circle cx="38.5" cy="385.3" r="0.39" fill="#55e62e" fill-opacity="0.39"/>
<circle cx="28.4" cy="396.8" r="0.70" fill="#55e62e" fill-opacity="0.82"/>
<circle cx="49.5" cy="406.8" r="0.59" fill="#55e62e" fill-opacity="0.67"/>
<circle cx="84.1" cy="422.2" r="0.53" fill="#55e62e" fill-opacity="0.58"/>
<circle cx="26.8" cy="414.6" r="0.63" fill="#55e62e" fill-opacity="0.72"/>
<circle cx="74.3" cy="382.4" r="0.57" fill="#55e62e" fill-opacity="0.63"/>
<circle cx="38.9" cy="386.6" r="0.70" fill="#55e62e" fill-opacity="0.81"/>
<circle cx="65.1" cy="421.8" r="0.38" fill="#55e62e" fill-opacity="0.37"/>
<circle cx="77.6" cy="433.4" r="0.66" fill="#55e62e" fill-opacity="0.76"/>
<circle cx="70.9" cy="427.1" r="0.61" fill="#55e62e" fill-opacity="0.69"/>
<circle cx="58.4" cy="403.1" r="0.62" fill="#55e62e" fill-opacity="0.70"/>
<circle cx="74.1" cy="429.4" r="0.42" fill="#55e62e" fill-opacity="0.42"/>
<circle cx="88.3" cy="408.9" r="0.69" fill="#55e62e" fill-opacity="0.80"/>
<circle cx="20.1" cy="435.3" r="0.60" fill="#55e62e" fill-opacity="0.68"/>
<circle cx="31.1" cy="427.4" r="0.40" fill="#55e62e" fill-opacity="0.40"/>
<circle cx="26.7" cy="404.5" r="0.40" fill="#55e62e" fill-opacity="0.40"/>
<circle cx="50.5" cy="431.7" r="0.55" fill="#55e62e" fill-opacity="0.61"/>
<circle cx="68.1" cy="400.5" r="0.60" fill="#55e62e" fill-opacity="0.67"/>
<circle cx="74.8" cy="418.0" r="0.68" fill="#55e62e" fill-opacity="0.79"/>
<circle cx="77.4" cy="401.3" r="0.37" fill="#55e62e" fill-opacity="0.36"/>
<circle cx="63.4" cy="427.3" r="0.43" fill="#55e62e" fill-opacity="0.44"/>
<circle cx="58.8" cy="427.3" r="0.60" fill="#55e62e" fill-opacity="0.68"/>
<circle cx="12.0" cy="383.5" r="0.61" fill="#55e62e" fill-opacity="0.69"/>
<circle cx="44.5" cy="413.3" r="0.46" fill="#55e62e" fill-opacity="0.49"/>
<circle cx="37.8" cy="389.7" r="0.43" fill="#55e62e" fill-opacity="0.44"/>
<circle cx="78.9" cy="414.2" r="0.41" fill="#55e62e" fill-opacity="0.42"/>
<circle cx="17.8" cy="393.2" r="0.56" fill="#55e62e" fill-opacity="0.62"/>
<circle cx="46.4" cy="416.7" r="0.61" fill="#55e62e" fill-opacity="0.69"/>
<circle cx="20.5" cy="418.1" r="0.36" fill="#55e62e" fill-opacity="0.35"/>
<circle cx="77.2" cy="387.9" r="0.41" fill="#55e62e" fill-opacity="0.41"/>
<circle cx="88.1" cy="398.7" r="0.40" fill="#55e62e" fill-opacity="0.39"/>
<circle cx="82.6" cy="413.7" r="0.66" fill="#55e62e" fill-opacity="0.76"/>
<circle cx="42.6" cy="407.0" r="0.69" fill="#55e62e" fill-opacity="0.81"/>
<circle cx="26.0" cy="427.0" r="0.38" fill="#55e62e" fill-opacity="0.38"/>
<circle cx="24.9" cy="433.9" r="0.46" fill="#55e62e" fill-opacity="0.48"/>
<circle cx="76.1" cy="391.9" r="0.43" fill="#55e62e" fill-opacity="0.44"/>
<circle cx="18.9" cy="410.2" r="0.64" fill="#55e62e" fill-opacity="0.73"/>
<circle cx="52.2" cy="399.6" r="0.68" fill="#55e62e" fill-opacity="0.78"/>
<circle cx="82.9" cy="417.0" r="0.37" fill="#55e62e" fill-opacity="0.35"/>
<circle cx="61.1" cy="403.6" r="0.69" fill="#55e62e" fill-opacity="0.81"/>
<circle cx="39.9" cy="416.7" r="0.53" fill="#55e62e" fill-opacity="0.58"/>
<circle cx="41.1" cy="408.3" r="0.55" fill="#55e62e" fill-opacity="0.60"/>
<circle cx="84.0" cy="406.9" r="0.43" fill="#55e62e" fill-opacity="0.44"/>
<circle cx="89.6" cy="380.2" r="0.62" fill="#55e62e" fill-opacity="0.71"/>
<circle cx="65.9" cy="410.5" r="0.46" fill="#55e62e" fill-opacity="0.48"/>
<circle cx="71.4" cy="430.6" r="0.57" fill="#55e62e" fill-opacity="0.64"/>
<circle cx="71.3" cy="378.9" r="0.42" fill="#55e62e" fill-opacity="0.43"/>
<circle cx="21.8" cy="434.4" r="0.65" fill="#55e62e" fill-opacity="0.75"/>
<circle cx="22.4" cy="412.3" r="0.51" fill="#55e62e" fill-opacity="0.55"/>
<circle cx="14.5" cy="400.5" r="0.58" fill="#55e62e" fill-opacity="0.65"/>
<circle cx="62.5" cy="393.8" r="0.59" fill="#55e62e" fill-opacity="0.66"/>
<circle cx="34.2" cy="409.7" r="0.45" fill="#55e62e" fill-opacity="0.47"/>
<circle cx="89.7" cy="416.0" r="0.61" fill="#55e62e" fill-opacity="0.69"/>
<circle cx="65.4" cy="399.8" r="0.70" fill="#55e62e" fill-opacity="0.81"/>
<circle cx="68.0" cy="418.5" r="0.41" fill="#55e62e" fill-opacity="0.41"/>
<circle cx="23.8" cy="411.5" r="0.62" fill="#55e62e" fill-opacity="0.70"/>
<circle cx="74.8" cy="397.8" r="0.38" fill="#55e62e" fill-opacity="0.37"/>
<circle cx="164.1" cy="386.6" r="0.65" fill="#55e62e" fill-opacity="0.75"/>
<circle cx="118.3" cy="380.0" r="0.45" fill="#55e62e" fill-opacity="0.46"/>
<circle cx="171.3" cy="434.9" r="0.41" fill="#55e62e" fill-opacity="0.42"/>
<circle cx="169.4" cy="388.7" r="0.45" fill="#55e62e" fill-opacity="0.47"/>
<circle cx="101.8" cy="392.5" r="0.48" fill="#55e62e" fill-opacity="0.51"/>
<circle cx="171.1" cy="392.9" r="0.42" fill="#55e62e" fill-opacity="0.42"/>
<circle cx="129.5" cy="427.4" r="0.59" fill="#55e62e" fill-opacity="0.67"/>
<circle cx="118.5" cy="386.0" r="0.66" fill="#55e62e" fill-opacity="0.76"/>
<circle cx="138.3" cy="417.3" r="0.66" fill="#55e62e" fill-opacity="0.76"/>
<circle cx="122.4" cy="432.2" r="0.54" fill="#55e62e" fill-opacity="0.59"/>
<circle cx="144.0" cy="392.5" r="0.67" fill="#55e62e" fill-opacity="0.78"/>
<circle cx="113.3" cy="384.2" r="0.78" fill="#55e62e" fill-opacity="0.94"/>
<circle cx="112.7" cy="381.0" r="0.55" fill="#55e62e" fill-opacity="0.60"/>
<circle cx="147.9" cy="401.7" r="0.69" fill="#55e62e" fill-opacity="0.81"/>
<circle cx="123.3" cy="385.8" r="0.59" fill="#55e62e" fill-opacity="0.66"/>
<circle cx="155.7" cy="400.6" r="0.78" fill="#55e62e" fill-opacity="0.94"/>
<circle cx="120.7" cy="400.5" r="0.69" fill="#55e62e" fill-opacity="0.81"/>
<circle cx="108.0" cy="429.4" r="0.54" fill="#55e62e" fill-opacity="0.59"/>
<circle cx="147.2" cy="431.3" r="0.40" fill="#55e62e" fill-opacity="0.40"/>
<circle cx="98.3" cy="401.8" r="0.53" fill="#55e62e" fill-opacity="0.57"/>
<circle cx="147.1" cy="411.7" r="0.48" fill="#55e62e" fill-opacity="0.52"/>
<circle cx="115.2" cy="427.8" r="0.68" fill="#55e62e" fill-opacity="0.79"/>
<circle cx="105.2" cy="417.4" r="0.66" fill="#55e62e" fill-opacity="0.76"/>
<circle cx="165.8" cy="431.1" r="0.65" fill="#55e62e" fill-opacity="0.75"/>
<circle cx="145.6" cy="429.9" r="0.40" fill="#55e62e" fill-opacity="0.40"/>
<circle cx="150.0" cy="413.8" r="0.44" fill="#55e62e" fill-opacity="0.45"/>
<circle cx="127.2" cy="389.9" r="0.42" fill="#55e62e" fill-opacity="0.43"/>
<circle cx="100.6" cy="417.6" r="0.81" fill="#55e62e" fill-opacity="0.97"/>
<circle cx="122.1" cy="419.0" r="0.38" fill="#55e62e" fill-opacity="0.38"/>
<circle cx="104.2" cy="393.4" r="0.38" fill="#55e62e" fill-opacity="0.37"/>
<circle cx="137.9" cy="425.6" r="0.38" fill="#55e62e" fill-opacity="0.37"/>
<circle cx="102.0" cy="390.4" r="0.59" fill="#55e62e" fill-opacity="0.66"/>
<circle cx="119.8" cy="411.1" r="0.42" fill="#55e62e" fill-opacity="0.43"/>
<circle cx="109.9" cy="427.5" r="0.69" fill="#55e62e" fill-opacity="0.81"/>
<circle cx="95.5" cy="423.8" r="0.38" fill="#55e62e" fill-opacity="0.36"/>
<circle cx="127.3" cy="380.6" r="0.59" fill="#55e62e" fill-opacity="0.66"/>
<circle cx="140.4" cy="401.0" r="0.53" fill="#55e62e" fill-opacity="0.58"/>
<circle cx="111.3" cy="429.2" r="0.83" fill="#55e62e" fill-opacity="1.00"/>
<circle cx="170.9" cy="396.7" r="0.82" fill="#55e62e" fill-opacity="0.99"/>
<circle cx="128.0" cy="394.5" r="0.62" fill="#55e62e" fill-opacity="0.70"/>
<circle cx="129.8" cy="397.4" r="0.41" fill="#55e62e" fill-opacity="0.42"/>
<circle cx="115.9" cy="388.5" r="0.65" fill="#55e62e" fill-opacity="0.75"/>
<circle cx="128.5" cy="388.7" r="0.63" fill="#55e62e" fill-opacity="0.72"/>
<circle cx="114.5" cy="410.6" r="0.63" fill="#55e62e" fill-opacity="0.72"/>
<circle cx="153.6" cy="434.1" r="0.77" fill="#55e62e" fill-opacity="0.92"/>
<circle cx="151.3" cy="380.6" r="0.42" fill="#55e62e" fill-opacity="0.42"/>
<circle cx="114.5" cy="382.2" r="0.43" fill="#55e62e" fill-opacity="0.45"/>
<circle cx="106.3" cy="415.0" r="0.82" fill="#55e62e" fill-opacity="0.99"/>
<circle cx="96.6" cy="387.4" r="0.47" fill="#55e62e" fill-opacity="0.49"/>
<circle cx="158.2" cy="404.3" r="0.39" fill="#55e62e" fill-opacity="0.39"/>
<circle cx="126.9" cy="388.7" r="0.82" fill="#55e62e" fill-opacity="0.99"/>
<circle cx="157.4" cy="405.6" r="0.70" fill="#55e62e" fill-opacity="0.82"/>
<circle cx="124.3" cy="390.6" r="0.42" fill="#55e62e" fill-opacity="0.42"/>
<circle cx="94.7" cy="431.7" r="0.63" fill="#55e62e" fill-opacity="0.72"/>
<circle cx="172.4" cy="403.2" r="0.65" fill="#55e62e" fill-opacity="0.74"/>
<circle cx="158.8" cy="427.6" r="0.40" fill="#55e62e" fill-opacity="0.40"/>
<circle cx="124.8" cy="390.5" r="0.37" fill="#55e62e" fill-opacity="0.36"/>
<circle cx="156.7" cy="404.8" r="0.38" fill="#55e62e" fill-opacity="0.37"/>
<circle cx="136.3" cy="381.1" r="0.45" fill="#55e62e" fill-opacity="0.47"/>
<circle cx="164.7" cy="406.1" r="0.59" fill="#55e62e" fill-opacity="0.67"/>
<circle cx="112.7" cy="431.5" r="0.48" fill="#55e62e" fill-opacity="0.50"/>
<circle cx="127.4" cy="393.4" r="0.51" fill="#55e62e" fill-opacity="0.55"/>
<circle cx="144.5" cy="419.5" r="0.50" fill="#55e62e" fill-opacity="0.54"/>
<circle cx="117.1" cy="385.7" r="0.48" fill="#55e62e" fill-opacity="0.51"/>
<circle cx="150.8" cy="391.3" r="0.60" fill="#55e62e" fill-opacity="0.68"/>
<circle cx="131.2" cy="385.4" r="0.76" fill="#55e62e" fill-opacity="0.90"/>
<circle cx="98.1" cy="391.2" r="0.82" fill="#55e62e" fill-opacity="0.99"/>
<circle cx="124.8" cy="424.4" r="0.70" fill="#55e62e" fill-opacity="0.82"/>
<circle cx="153.1" cy="379.1" r="0.39" fill="#55e62e" fill-opacity="0.38"/>
<circle cx="158.0" cy="379.1" r="0.38" fill="#55e62e" fill-opacity="0.37"/>
<circle cx="168.4" cy="390.1" r="0.61" fill="#55e62e" fill-opacity="0.69"/>
<circle cx="144.7" cy="432.3" r="0.43" fill="#55e62e" fill-opacity="0.45"/>
<circle cx="94.5" cy="422.5" r="0.39" fill="#55e62e" fill-opacity="0.39"/>
<circle cx="150.5" cy="388.1" r="0.69" fill="#55e62e" fill-opacity="0.81"/>
<circle cx="134.5" cy="383.2" r="0.68" fill="#55e62e" fill-opacity="0.79"/>
<circle cx="138.0" cy="426.4" r="0.53" fill="#55e62e" fill-opacity="0.57"/>
<circle cx="141.2" cy="425.1" r="0.39" fill="#55e62e" fill-opacity="0.38"/>
<circle cx="126.0" cy="394.9" r="0.37" fill="#55e62e" fill-opacity="0.36"/>
<circle cx="94.9" cy="426.9" r="0.70" fill="#55e62e" fill-opacity="0.81"/>
<circle cx="102.9" cy="416.1" r="0.42" fill="#55e62e" fill-opacity="0.42"/>
<circle cx="101.9" cy="435.8" r="0.55" fill="#55e62e" fill-opacity="0.60"/>
<circle cx="100.6" cy="420.9" r="0.72" fill="#55e62e" fill-opacity="0.85"/>
<circle cx="101.2" cy="399.0" r="0.45" fill="#55e62e" fill-opacity="0.46"/>
<circle cx="105.0" cy="413.4" r="0.81" fill="#55e62e" fill-opacity="0.98"/>
<circle cx="113.0" cy="383.6" r="0.51" fill="#55e62e" fill-opacity="0.55"/>
<circle cx="142.5" cy="416.0" r="0.77" fill="#55e62e" fill-opacity="0.91"/>
<circle cx="157.5" cy="431.9" r="0.71" fill="#55e62e" fill-opacity="0.84"/>
<circle cx="95.5" cy="417.9" r="0.72" fill="#55e62e" fill-opacity="0.85"/>
<circle cx="164.1" cy="387.7" r="0.79" fill="#55e62e" fill-opacity="0.94"/>
<circle cx="150.2" cy="392.1" r="0.45" fill="#55e62e" fill-opacity="0.46"/>
<circle cx="119.3" cy="382.5" r="0.50" fill="#55e62e" fill-opacity="0.54"/>
<circle cx="146.0" cy="433.1" r="0.66" fill="#55e62e" fill-opacity="0.77"/>
<circle cx="113.2" cy="401.7" r="0.37" fill="#55e62e" fill-opacity="0.36"/>
<circle cx="164.8" cy="432.4" r="0.46" fill="#55e62e" fill-opacity="0.48"/>
<circle cx="155.8" cy="430.5" r="0.68" fill="#55e62e" fill-opacity="0.80"/>
<circle cx="101.5" cy="426.7" r="0.45" fill="#55e62e" fill-opacity="0.47"/>
<circle cx="122.7" cy="409.3" r="0.80" fill="#55e62e" fill-opacity="0.96"/>
<circle cx="136.0" cy="416.1" r="0.54" fill="#55e62e" fill-opacity="0.60"/>
<circle cx="126.0" cy="432.0" r="0.62" fill="#55e62e" fill-opacity="0.71"/>
<circle cx="100.3" cy="389.6" r="0.44" fill="#55e62e" fill-opacity="0.46"/>
<circle cx="94.1" cy="392.5" r="0.64" fill="#55e62e" fill-opacity="0.73"/>
<circle cx="107.3" cy="403.3" r="0.62" fill="#55e62e" fill-opacity="0.71"/>
<circle cx="153.4" cy="422.3" r="0.43" fill="#55e62e" fill-opacity="0.44"/>
<circle cx="95.2" cy="418.5" r="0.42" fill="#55e62e" fill-opacity="0.42"/>
<circle cx="171.1" cy="415.7" r="0.57" fill="#55e62e" fill-opacity="0.63"/>
<circle cx="141.4" cy="418.8" r="0.45" fill="#55e62e" fill-opacity="0.46"/>
<circle cx="128.4" cy="392.3" r="0.40" fill="#55e62e" fill-opacity="0.40"/>
<circle cx="129.5" cy="391.1" r="0.44" fill="#55e62e" fill-opacity="0.45"/>
<circle cx="107.4" cy="382.8" r="0.45" fill="#55e62e" fill-opacity="0.46"/>
<circle cx="148.9" cy="403.7" r="0.64" fill="#55e62e" fill-opacity="0.74"/>
<circle cx="112.9" cy="388.2" r="0.38" fill="#55e62e" fill-opacity="0.36"/>
<circle cx="111.3" cy="428.4" r="0.69" fill="#55e62e" fill-opacity="0.80"/>
<circle cx="166.3" cy="386.3" r="0.60" fill="#55e62e" fill-opacity="0.68"/>
<circle cx="146.6" cy="387.7" r="0.40" fill="#55e62e" fill-opacity="0.40"/>
<circle cx="112.8" cy="386.9" r="0.56" fill="#55e62e" fill-opacity="0.62"/>
<circle cx="98.2" cy="377.7" r="0.72" fill="#55e62e" fill-opacity="0.85"/>
<circle cx="112.9" cy="387.4" r="0.40" fill="#55e62e" fill-opacity="0.40"/>
<circle cx="113.4" cy="398.9" r="0.54" fill="#55e62e" fill-opacity="0.59"/>
<circle cx="127.0" cy="389.6" r="0.48" fill="#55e62e" fill-opacity="0.50"/>
<circle cx="111.1" cy="388.5" r="0.42" fill="#55e62e" fill-opacity="0.43"/>
<circle cx="122.6" cy="415.5" r="0.51" fill="#55e62e" fill-opacity="0.56"/>
<circle cx="97.1" cy="416.9" r="0.71" fill="#55e62e" fill-opacity="0.83"/>
<circle cx="95.4" cy="403.3" r="0.39" fill="#55e62e" fill-opacity="0.39"/>
<circle cx="150.6" cy="382.5" r="0.39" fill="#55e62e" fill-opacity="0.39"/>
<circle cx="107.1" cy="390.7" r="0.50" fill="#55e62e" fill-opacity="0.54"/>
<circle cx="125.1" cy="394.6" r="0.78" fill="#55e62e" fill-opacity="0.93"/>
<circle cx="98.8" cy="390.2" r="0.65" fill="#55e62e" fill-opacity="0.75"/>
<circle cx="163.5" cy="434.9" r="0.73" fill="#55e62e" fill-opacity="0.85"/>
<circle cx="113.5" cy="384.8" r="0.41" fill="#55e62e" fill-opacity="0.41"/>
<circle cx="110.2" cy="381.8" r="0.44" fill="#55e62e" fill-opacity="0.45"/>
<circle cx="130.3" cy="421.0" r="0.38" fill="#55e62e" fill-opacity="0.38"/>
<circle cx="118.7" cy="389.2" r="0.61" fill="#55e62e" fill-opacity="0.69"/>
<circle cx="102.7" cy="436.2" r="0.52" fill="#55e62e" fill-opacity="0.56"/>
<circle cx="93.9" cy="416.2" r="0.53" fill="#55e62e" fill-opacity="0.58"/>
<circle cx="126.4" cy="388.3" r="0.43" fill="#55e62e" fill-opacity="0.43"/>
<circle cx="142.0" cy="416.1" r="0.40" fill="#55e62e" fill-opacity="0.40"/>
<circle cx="169.6" cy="421.5" r="0.73" fill="#55e62e" fill-opacity="0.85"/>
<circle cx="166.1" cy="387.8" r="0.42" fill="#55e62e" fill-opacity="0.43"/>
<circle cx="166.0" cy="381.8" r="0.42" fill="#55e62e" fill-opacity="0.43"/>
<circle cx="127.3" cy="393.5" r="0.66" fill="#55e62e" fill-opacity="0.76"/>
<circle cx="169.1" cy="401.1" r="0.62" fill="#55e62e" fill-opacity="0.70"/>
<circle cx="115.2" cy="387.3" r="0.53" fill="#55e62e" fill-opacity="0.58"/>
<circle cx="110.5" cy="427.2" r="0.42" fill="#55e62e" fill-opacity="0.42"/>
<circle cx="130.0" cy="390.5" r="0.80" fill="#55e62e" fill-opacity="0.96"/>
<circle cx="126.0" cy="397.5" r="0.61" fill="#55e62e" fill-opacity="0.69"/>
<circle cx="128.5" cy="396.8" r="0.37" fill="#55e62e" fill-opacity="0.36"/>
<circle cx="113.9" cy="404.2" r="0.55" fill="#55e62e" fill-opacity="0.61"/>
<circle cx="104.2" cy="391.3" r="0.40" fill="#55e62e" fill-opacity="0.39"/>
<circle cx="105.1" cy="385.1" r="0.53" fill="#55e62e" fill-opacity="0.59"/>
<circle cx="164.8" cy="380.2" r="0.43" fill="#55e62e" fill-opacity="0.43"/>
<circle cx="140.4" cy="404.1" r="0.49" fill="#55e62e" fill-opacity="0.52"/>
<circle cx="146.6" cy="428.8" r="0.80" fill="#55e62e" fill-opacity="0.95"/>
<circle cx="169.3" cy="401.4" r="0.38" fill="#55e62e" fill-opacity="0.37"/>
<circle cx="101.4" cy="377.9" r="0.44" fill="#55e62e" fill-opacity="0.46"/>
<circle cx="171.3" cy="429.4" r="0.49" fill="#55e62e" fill-opacity="0.52"/>
<circle cx="161.8" cy="425.5" r="0.60" fill="#55e62e" fill-opacity="0.68"/>
<circle cx="102.4" cy="391.5" r="0.60" fill="#55e62e" fill-opacity="0.68"/>
<circle cx="157.9" cy="431.1" r="0.80" fill="#55e62e" fill-opacity="0.96"/>
<circle cx="99.2" cy="431.0" r="0.56" fill="#55e62e" fill-opacity="0.62"/>
</g>
<line x1="92.25" y1="196.00" x2="92.25" y2="437.20" stroke="#fff" stroke-width="1.6" />
<line x1="10.70" y1="256.00" x2="174.00" y2="256.00" stroke="#fff" stroke-width="1.3" />
<line x1="10.70" y1="316.40" x2="174.00" y2="316.40" stroke="#fff" stroke-width="1.3" />
<line x1="10.70" y1="376.80" x2="174.00" y2="376.80" stroke="#fff" stroke-width="1.3" />
<text x="14.6" y="204.8" font-size="7.5" text-anchor="start" fill="#fff" class="w">MEF</text>
<text x="14.6" y="265.0" font-size="7.5" text-anchor="start" fill="#fff" class="w">3T3</text>
<text x="14.6" y="325.6" font-size="7.5" text-anchor="start" fill="#fff" class="w">MLE-12</text>
<text x="14.6" y="386.0" font-size="7.5" text-anchor="start" fill="#fff" class="w">A549</text>
<text x="158.5" y="429.7" font-size="7.9" text-anchor="middle" fill="#fff" class="w">200 μm</text>
<line x1="152.50" y1="432.30" x2="161.20" y2="432.30" stroke="#fff" stroke-width="1.2" />
<text x="197.5" y="168.5" font-size="14" font-weight="bold" fill="#000">g</text>
<rect x="221.7" y="265.5" width="9.6" height="13.7" fill="#d4d4d4"/>
<rect x="235.0" y="225.9" width="9.4" height="53.3" fill="#79f4db"/>
<rect x="257.2" y="269.6" width="9.4" height="9.6" fill="#d4d4d4"/>
<rect x="270.3" y="257.0" width="9.5" height="22.2" fill="#79f4db"/>
<rect x="292.8" y="253.6" width="9.6" height="25.6" fill="#d4d4d4"/>
<rect x="305.8" y="225.9" width="9.5" height="53.3" fill="#79f4db"/>
<rect x="328.3" y="239.9" width="9.4" height="39.3" fill="#d4d4d4"/>
<rect x="341.3" y="196.8" width="9.6" height="82.4" fill="#79f4db"/>
<line x1="217.20" y1="187.35" x2="217.20" y2="279.65" stroke="#111" stroke-width="1.0" />
<line x1="213.50" y1="187.60" x2="217.20" y2="187.60" stroke="#111" stroke-width="1.0" />
<text x="212.3" y="190.3" font-size="7.550000000000001" text-anchor="end" fill="#111" >80</text>
<line x1="213.50" y1="210.50" x2="217.20" y2="210.50" stroke="#111" stroke-width="1.0" />
<text x="212.3" y="213.2" font-size="7.550000000000001" text-anchor="end" fill="#111" >60</text>
<line x1="213.50" y1="233.40" x2="217.20" y2="233.40" stroke="#111" stroke-width="1.0" />
<text x="212.3" y="236.1" font-size="7.550000000000001" text-anchor="end" fill="#111" >40</text>
<line x1="213.50" y1="256.30" x2="217.20" y2="256.30" stroke="#111" stroke-width="1.0" />
<text x="212.3" y="259.0" font-size="7.550000000000001" text-anchor="end" fill="#111" >20</text>
<line x1="213.50" y1="279.20" x2="217.20" y2="279.20" stroke="#111" stroke-width="1.0" />
<text x="212.3" y="281.9" font-size="7.550000000000001" text-anchor="end" fill="#111" >0</text>
<line x1="216.75" y1="279.20" x2="355.00" y2="279.20" stroke="#111" stroke-width="1.0" />
<line x1="233.00" y1="279.20" x2="233.00" y2="282.40" stroke="#111" stroke-width="1.0" />
<text x="233.0" y="291.0" font-size="7.4" text-anchor="middle" fill="#111" >MEF</text>
<line x1="268.50" y1="279.20" x2="268.50" y2="282.40" stroke="#111" stroke-width="1.0" />
<text x="268.5" y="291.0" font-size="7.4" text-anchor="middle" fill="#111" >3T3</text>
<line x1="304.00" y1="279.20" x2="304.00" y2="282.40" stroke="#111" stroke-width="1.0" />
<text x="304.0" y="291.0" font-size="7.4" text-anchor="middle" fill="#111" >MLE-12</text>
<line x1="339.60" y1="279.20" x2="339.60" y2="282.40" stroke="#111" stroke-width="1.0" />
<text x="339.6" y="291.0" font-size="7.4" text-anchor="middle" fill="#111" >A549</text>
<text transform="translate(199.7,233.7) rotate(-90)" font-size="7.75" text-anchor="middle" fill="#111" >VSV-GFP+ cells (%)</text>
<line x1="226.50" y1="263.00" x2="226.50" y2="268.20" stroke="#222" stroke-width="0.75" />
<line x1="224.30" y1="263.00" x2="228.70" y2="263.00" stroke="#222" stroke-width="0.75" />
<line x1="224.30" y1="268.20" x2="228.70" y2="268.20" stroke="#222" stroke-width="0.75" />
<circle cx="223.5" cy="263.5" r="1.55" fill="none" stroke="#000" stroke-width="0.78"/>
<circle cx="228.8" cy="265.0" r="1.55" fill="none" stroke="#000" stroke-width="0.78"/>
<circle cx="224.5" cy="267.8" r="1.55" fill="none" stroke="#000" stroke-width="0.78"/>
<line x1="239.70" y1="220.00" x2="239.70" y2="232.00" stroke="#222" stroke-width="0.75" />
<line x1="237.50" y1="220.00" x2="241.90" y2="220.00" stroke="#222" stroke-width="0.75" />
<line x1="237.50" y1="232.00" x2="241.90" y2="232.00" stroke="#222" stroke-width="0.75" />
<circle cx="239.6" cy="221.0" r="1.55" fill="none" stroke="#000" stroke-width="0.78"/>
<circle cx="239.6" cy="223.8" r="1.55" fill="none" stroke="#000" stroke-width="0.78"/>
<circle cx="239.6" cy="231.8" r="1.55" fill="none" stroke="#000" stroke-width="0.78"/>
<line x1="261.90" y1="268.00" x2="261.90" y2="271.00" stroke="#222" stroke-width="0.75" />
<line x1="259.70" y1="268.00" x2="264.10" y2="268.00" stroke="#222" stroke-width="0.75" />
<line x1="259.70" y1="271.00" x2="264.10" y2="271.00" stroke="#222" stroke-width="0.75" />
<circle cx="259.0" cy="270.5" r="1.55" fill="none" stroke="#000" stroke-width="0.78"/>
<circle cx="261.9" cy="268.5" r="1.55" fill="none" stroke="#000" stroke-width="0.78"/>
<circle cx="264.6" cy="269.5" r="1.55" fill="none" stroke="#000" stroke-width="0.78"/>
<line x1="275.00" y1="255.80" x2="275.00" y2="258.00" stroke="#222" stroke-width="0.75" />
<line x1="272.80" y1="255.80" x2="277.20" y2="255.80" stroke="#222" stroke-width="0.75" />
<line x1="272.80" y1="258.00" x2="277.20" y2="258.00" stroke="#222" stroke-width="0.75" />
<circle cx="272.3" cy="257.3" r="1.55" fill="none" stroke="#000" stroke-width="0.78"/>
<circle cx="275.0" cy="256.5" r="1.55" fill="none" stroke="#000" stroke-width="0.78"/>
<circle cx="277.8" cy="256.8" r="1.55" fill="none" stroke="#000" stroke-width="0.78"/>
<line x1="297.60" y1="251.00" x2="297.60" y2="258.00" stroke="#222" stroke-width="0.75" />
<line x1="295.40" y1="251.00" x2="299.80" y2="251.00" stroke="#222" stroke-width="0.75" />
<line x1="295.40" y1="258.00" x2="299.80" y2="258.00" stroke="#222" stroke-width="0.75" />
<circle cx="294.5" cy="251.5" r="1.55" fill="none" stroke="#000" stroke-width="0.78"/>
<circle cx="299.8" cy="252.5" r="1.55" fill="none" stroke="#000" stroke-width="0.78"/>
<circle cx="297.6" cy="257.0" r="1.55" fill="none" stroke="#000" stroke-width="0.78"/>
<line x1="310.50" y1="216.50" x2="310.50" y2="233.00" stroke="#222" stroke-width="0.75" />
<line x1="308.30" y1="216.50" x2="312.70" y2="216.50" stroke="#222" stroke-width="0.75" />
<line x1="308.30" y1="233.00" x2="312.70" y2="233.00" stroke="#222" stroke-width="0.75" />
<circle cx="310.5" cy="217.0" r="1.55" fill="none" stroke="#000" stroke-width="0.78"/>
<circle cx="310.5" cy="229.0" r="1.55" fill="none" stroke="#000" stroke-width="0.78"/>
<circle cx="310.5" cy="232.2" r="1.55" fill="none" stroke="#000" stroke-width="0.78"/>
<line x1="333.00" y1="233.00" x2="333.00" y2="246.50" stroke="#222" stroke-width="0.75" />
<line x1="330.80" y1="233.00" x2="335.20" y2="233.00" stroke="#222" stroke-width="0.75" />
<line x1="330.80" y1="246.50" x2="335.20" y2="246.50" stroke="#222" stroke-width="0.75" />
<circle cx="333.0" cy="233.2" r="1.55" fill="none" stroke="#000" stroke-width="0.78"/>
<circle cx="333.0" cy="242.2" r="1.55" fill="none" stroke="#000" stroke-width="0.78"/>
<circle cx="333.0" cy="245.3" r="1.55" fill="none" stroke="#000" stroke-width="0.78"/>
<line x1="346.10" y1="194.50" x2="346.10" y2="198.50" stroke="#222" stroke-width="0.75" />
<line x1="343.90" y1="194.50" x2="348.30" y2="194.50" stroke="#222" stroke-width="0.75" />
<line x1="343.90" y1="198.50" x2="348.30" y2="198.50" stroke="#222" stroke-width="0.75" />
<circle cx="343.2" cy="198.0" r="1.55" fill="none" stroke="#000" stroke-width="0.78"/>
<circle cx="346.3" cy="194.8" r="1.55" fill="none" stroke="#000" stroke-width="0.78"/>
<circle cx="349.0" cy="197.0" r="1.55" fill="none" stroke="#000" stroke-width="0.78"/>
<path d="M227.0,212.7 V209.1 H239.5 V212.7" fill="none" stroke="#000" stroke-width="1" stroke-linejoin="miter"/>
<text x="233.3" y="209.1" font-size="9.7" text-anchor="middle" fill="#000" >***</text>
<path d="M262.2,248.5 V244.9 H275.2 V248.5" fill="none" stroke="#000" stroke-width="1" stroke-linejoin="miter"/>
<text x="268.7" y="244.9" font-size="9.7" text-anchor="middle" fill="#000" >***</text>
<path d="M297.7,209.5 V205.9 H310.4 V209.5" fill="none" stroke="#000" stroke-width="1" stroke-linejoin="miter"/>
<text x="304.2" y="205.9" font-size="9.7" text-anchor="middle" fill="#000" >**</text>
<path d="M332.6,189.0 V185.4 H345.8 V189.0" fill="none" stroke="#000" stroke-width="1" stroke-linejoin="miter"/>
<text x="339.3" y="185.4" font-size="9.7" text-anchor="middle" fill="#000" >***</text>
<rect x="219.0" y="299.6" width="9.3" height="5.2" fill="#d4d4d4"/>
<text x="233.3" y="304.6" font-size="7.4" text-anchor="start" fill="#111" >DMSO</text>
<rect x="267.5" y="299.6" width="9.3" height="5.2" fill="#79f4db"/>
<text x="281.8" y="304.6" font-size="7.4" text-anchor="start" fill="#111" >OI</text>
<text x="372.5" y="171" font-size="14" font-weight="bold" fill="#000">h</text>
<rect x="413.9" y="244.1" width="14.0" height="28.9" fill="#9d5bd2"/>
<rect x="434.4" y="239.7" width="14.0" height="33.3" fill="#9d5bd2"/>
<rect x="454.6" y="238.8" width="14.0" height="34.2" fill="#9d5bd2"/>
<rect x="475.0" y="224.1" width="14.0" height="48.9" fill="#9d5bd2"/>
<rect x="495.2" y="188.0" width="14.0" height="85.0" fill="#9d5bd2"/>
<line x1="407.00" y1="181.15" x2="407.00" y2="273.45" stroke="#111" stroke-width="1.0" />
<line x1="403.30" y1="181.60" x2="407.00" y2="181.60" stroke="#111" stroke-width="1.0" />
<text x="402.1" y="184.3" font-size="7.550000000000001" text-anchor="end" fill="#111" >100</text>
<line x1="403.30" y1="199.88" x2="407.00" y2="199.88" stroke="#111" stroke-width="1.0" />
<text x="402.1" y="202.6" font-size="7.550000000000001" text-anchor="end" fill="#111" >80</text>
<line x1="403.30" y1="218.16" x2="407.00" y2="218.16" stroke="#111" stroke-width="1.0" />
<text x="402.1" y="220.9" font-size="7.550000000000001" text-anchor="end" fill="#111" >60</text>
<line x1="403.30" y1="236.44" x2="407.00" y2="236.44" stroke="#111" stroke-width="1.0" />
<text x="402.1" y="239.1" font-size="7.550000000000001" text-anchor="end" fill="#111" >40</text>
<line x1="403.30" y1="254.72" x2="407.00" y2="254.72" stroke="#111" stroke-width="1.0" />
<text x="402.1" y="257.4" font-size="7.550000000000001" text-anchor="end" fill="#111" >20</text>
<line x1="403.30" y1="273.00" x2="407.00" y2="273.00" stroke="#111" stroke-width="1.0" />
<text x="402.1" y="275.7" font-size="7.550000000000001" text-anchor="end" fill="#111" >0</text>
<line x1="406.55" y1="273.00" x2="516.80" y2="273.00" stroke="#111" stroke-width="1.0" />
<line x1="420.90" y1="273.00" x2="420.90" y2="276.20" stroke="#111" stroke-width="1.0" />
<text x="420.9" y="285.0" font-size="7.4" text-anchor="middle" fill="#111" >0</text>
<line x1="441.40" y1="273.00" x2="441.40" y2="276.20" stroke="#111" stroke-width="1.0" />
<text x="441.4" y="285.0" font-size="7.4" text-anchor="middle" fill="#111" >0.625</text>
<line x1="461.60" y1="273.00" x2="461.60" y2="276.20" stroke="#111" stroke-width="1.0" />
<text x="461.6" y="285.0" font-size="7.4" text-anchor="middle" fill="#111" >1.25</text>
<line x1="482.00" y1="273.00" x2="482.00" y2="276.20" stroke="#111" stroke-width="1.0" />
<text x="482.0" y="285.0" font-size="7.4" text-anchor="middle" fill="#111" >12.5</text>
<line x1="502.20" y1="273.00" x2="502.20" y2="276.20" stroke="#111" stroke-width="1.0" />
<text x="502.2" y="285.0" font-size="7.4" text-anchor="middle" fill="#111" >125</text>
<text transform="translate(385.8,226.3) rotate(-90)" font-size="7.75" text-anchor="middle" fill="#111" >VSV-GFP+ cells (%)</text>
<text x="453.6" y="297.8" font-size="7.4" text-anchor="middle" fill="#111" >OI Concentration (μM)</text>
<line x1="420.90" y1="242.30" x2="420.90" y2="245.30" stroke="#111" stroke-width="0.9" />
<line x1="418.30" y1="242.30" x2="423.50" y2="242.30" stroke="#111" stroke-width="0.9" />
<line x1="418.30" y1="245.30" x2="423.50" y2="245.30" stroke="#111" stroke-width="0.9" />
<circle cx="416.2" cy="241.9" r="1.55" fill="none" stroke="#000" stroke-width="0.78"/>
<circle cx="421.3" cy="245.0" r="1.55" fill="none" stroke="#000" stroke-width="0.78"/>
<circle cx="425.6" cy="245.0" r="1.55" fill="none" stroke="#000" stroke-width="0.78"/>
<line x1="441.40" y1="238.90" x2="441.40" y2="240.40" stroke="#111" stroke-width="0.9" />
<line x1="438.80" y1="238.90" x2="444.00" y2="238.90" stroke="#111" stroke-width="0.9" />
<line x1="438.80" y1="240.40" x2="444.00" y2="240.40" stroke="#111" stroke-width="0.9" />
<circle cx="437.1" cy="239.5" r="1.55" fill="none" stroke="#000" stroke-width="0.78"/>
<circle cx="441.3" cy="239.9" r="1.55" fill="none" stroke="#000" stroke-width="0.78"/>
<circle cx="445.9" cy="239.9" r="1.55" fill="none" stroke="#000" stroke-width="0.78"/>
<line x1="461.60" y1="237.80" x2="461.60" y2="239.40" stroke="#111" stroke-width="0.9" />
<line x1="459.00" y1="237.80" x2="464.20" y2="237.80" stroke="#111" stroke-width="0.9" />
<line x1="459.00" y1="239.40" x2="464.20" y2="239.40" stroke="#111" stroke-width="0.9" />
<circle cx="457.2" cy="238.5" r="1.55" fill="none" stroke="#000" stroke-width="0.78"/>
<circle cx="461.5" cy="239.0" r="1.55" fill="none" stroke="#000" stroke-width="0.78"/>
<circle cx="466.1" cy="239.0" r="1.55" fill="none" stroke="#000" stroke-width="0.78"/>
<line x1="482.00" y1="221.00" x2="482.00" y2="227.00" stroke="#111" stroke-width="0.9" />
<line x1="479.40" y1="221.00" x2="484.60" y2="221.00" stroke="#111" stroke-width="0.9" />
<line x1="479.40" y1="227.00" x2="484.60" y2="227.00" stroke="#111" stroke-width="0.9" />
<circle cx="481.6" cy="221.0" r="1.55" fill="none" stroke="#000" stroke-width="0.78"/>
<circle cx="478.6" cy="225.0" r="1.55" fill="none" stroke="#000" stroke-width="0.78"/>
<circle cx="485.3" cy="226.5" r="1.55" fill="none" stroke="#000" stroke-width="0.78"/>
<line x1="502.20" y1="186.50" x2="502.20" y2="189.70" stroke="#111" stroke-width="0.9" />
<line x1="499.60" y1="186.50" x2="504.80" y2="186.50" stroke="#111" stroke-width="0.9" />
<line x1="499.60" y1="189.70" x2="504.80" y2="189.70" stroke="#111" stroke-width="0.9" />
<circle cx="497.4" cy="186.3" r="1.55" fill="none" stroke="#000" stroke-width="0.78"/>
<circle cx="502.0" cy="188.0" r="1.55" fill="none" stroke="#000" stroke-width="0.78"/>
<circle cx="506.6" cy="189.7" r="1.55" fill="none" stroke="#000" stroke-width="0.78"/>
<path d="M421.5,179.0 V175.4 H502.4 V179.0" fill="none" stroke="#000" stroke-width="1" stroke-linejoin="miter"/>
<text x="457.5" y="175.4" font-size="9.7" text-anchor="middle" fill="#000" >***</text>
<path d="M421.5,198.1 V194.5 H481.9 V198.1" fill="none" stroke="#000" stroke-width="1" stroke-linejoin="miter"/>
<text x="448.8" y="194.5" font-size="9.7" text-anchor="middle" fill="#000" >***</text>
<path d="M421.5,214.7 V211.1 H461.4 V214.7" fill="none" stroke="#000" stroke-width="1" stroke-linejoin="miter"/>
<text x="439.2" y="211.1" font-size="9.7" text-anchor="middle" fill="#000" >**</text>
<path d="M421.5,232.3 V228.7 H441.3 V232.3" fill="none" stroke="#000" stroke-width="1" stroke-linejoin="miter"/>
<text x="431.0" y="228.7" font-size="9.7" text-anchor="middle" fill="#000" >*</text>
<text x="533.3" y="172" font-size="14" font-weight="bold" fill="#000">i</text>
<rect x="580.9" y="250.7" width="14.0" height="22.3" fill="#9d5bd2"/>
<rect x="601.0" y="236.4" width="14.0" height="36.6" fill="#9d5bd2"/>
<rect x="621.2" y="235.7" width="14.0" height="37.3" fill="#9d5bd2"/>
<rect x="641.7" y="217.6" width="14.0" height="55.4" fill="#9d5bd2"/>
<rect x="661.8" y="199.8" width="14.0" height="73.2" fill="#9d5bd2"/>
<line x1="574.00" y1="181.15" x2="574.00" y2="273.45" stroke="#111" stroke-width="1.0" />
<line x1="570.30" y1="181.60" x2="574.00" y2="181.60" stroke="#111" stroke-width="1.0" />
<text x="569.1" y="184.3" font-size="7.550000000000001" text-anchor="end" fill="#111" >0.005</text>
<line x1="570.30" y1="199.88" x2="574.00" y2="199.88" stroke="#111" stroke-width="1.0" />
<text x="569.1" y="202.6" font-size="7.550000000000001" text-anchor="end" fill="#111" >0.004</text>
<line x1="570.30" y1="218.16" x2="574.00" y2="218.16" stroke="#111" stroke-width="1.0" />
<text x="569.1" y="220.9" font-size="7.550000000000001" text-anchor="end" fill="#111" >0.003</text>
<line x1="570.30" y1="236.44" x2="574.00" y2="236.44" stroke="#111" stroke-width="1.0" />
<text x="569.1" y="239.1" font-size="7.550000000000001" text-anchor="end" fill="#111" >0.002</text>
<line x1="570.30" y1="254.72" x2="574.00" y2="254.72" stroke="#111" stroke-width="1.0" />
<text x="569.1" y="257.4" font-size="7.550000000000001" text-anchor="end" fill="#111" >0.001</text>
<line x1="570.30" y1="273.00" x2="574.00" y2="273.00" stroke="#111" stroke-width="1.0" />
<text x="569.1" y="275.7" font-size="7.550000000000001" text-anchor="end" fill="#111" >0.000</text>
<line x1="573.55" y1="273.00" x2="685.00" y2="273.00" stroke="#111" stroke-width="1.0" />
<line x1="587.90" y1="273.00" x2="587.90" y2="276.20" stroke="#111" stroke-width="1.0" />
<text x="587.9" y="285.0" font-size="7.4" text-anchor="middle" fill="#111" >0</text>
<line x1="608.00" y1="273.00" x2="608.00" y2="276.20" stroke="#111" stroke-width="1.0" />
<text x="608.0" y="285.0" font-size="7.4" text-anchor="middle" fill="#111" >0.625</text>
<line x1="628.20" y1="273.00" x2="628.20" y2="276.20" stroke="#111" stroke-width="1.0" />
<text x="628.2" y="285.0" font-size="7.4" text-anchor="middle" fill="#111" >1.25</text>
<line x1="648.70" y1="273.00" x2="648.70" y2="276.20" stroke="#111" stroke-width="1.0" />
<text x="648.7" y="285.0" font-size="7.4" text-anchor="middle" fill="#111" >12.5</text>
<line x1="668.80" y1="273.00" x2="668.80" y2="276.20" stroke="#111" stroke-width="1.0" />
<text x="668.8" y="285.0" font-size="7.4" text-anchor="middle" fill="#111" >125</text>
<text transform="translate(545.2,225.8) rotate(-90)" font-size="7.4" text-anchor="middle" fill="#111" >IAV RNA</text>
<text x="620.6" y="297.8" font-size="7.4" text-anchor="middle" fill="#111" >OI Concentration (μM)</text>
<line x1="587.90" y1="246.00" x2="587.90" y2="255.20" stroke="#111" stroke-width="0.9" />
<line x1="584.60" y1="246.00" x2="591.20" y2="246.00" stroke="#111" stroke-width="0.9" />
<line x1="584.60" y1="255.20" x2="591.20" y2="255.20" stroke="#111" stroke-width="0.9" />
<circle cx="587.9" cy="246.3" r="1.55" fill="none" stroke="#000" stroke-width="0.78"/>
<circle cx="584.8" cy="252.0" r="1.55" fill="none" stroke="#000" stroke-width="0.78"/>
<circle cx="591.0" cy="254.3" r="1.55" fill="none" stroke="#000" stroke-width="0.78"/>
<line x1="608.00" y1="229.50" x2="608.00" y2="243.50" stroke="#111" stroke-width="0.9" />
<line x1="604.70" y1="229.50" x2="611.30" y2="229.50" stroke="#111" stroke-width="0.9" />
<line x1="604.70" y1="243.50" x2="611.30" y2="243.50" stroke="#111" stroke-width="0.9" />
<circle cx="608.0" cy="229.9" r="1.55" fill="none" stroke="#000" stroke-width="0.78"/>
<circle cx="608.0" cy="236.6" r="1.55" fill="none" stroke="#000" stroke-width="0.78"/>
<circle cx="608.0" cy="243.4" r="1.55" fill="none" stroke="#000" stroke-width="0.78"/>
<line x1="628.20" y1="229.80" x2="628.20" y2="242.60" stroke="#111" stroke-width="0.9" />
<line x1="624.90" y1="229.80" x2="631.50" y2="229.80" stroke="#111" stroke-width="0.9" />
<line x1="624.90" y1="242.60" x2="631.50" y2="242.60" stroke="#111" stroke-width="0.9" />
<circle cx="625.0" cy="232.4" r="1.55" fill="none" stroke="#000" stroke-width="0.78"/>
<circle cx="631.5" cy="232.4" r="1.55" fill="none" stroke="#000" stroke-width="0.78"/>
<circle cx="628.2" cy="242.6" r="1.55" fill="none" stroke="#000" stroke-width="0.78"/>
<line x1="648.70" y1="213.70" x2="648.70" y2="222.30" stroke="#111" stroke-width="0.9" />
<line x1="645.40" y1="213.70" x2="652.00" y2="213.70" stroke="#111" stroke-width="0.9" />
<line x1="645.40" y1="222.30" x2="652.00" y2="222.30" stroke="#111" stroke-width="0.9" />
<circle cx="645.5" cy="215.4" r="1.55" fill="none" stroke="#000" stroke-width="0.78"/>
<circle cx="651.9" cy="215.8" r="1.55" fill="none" stroke="#000" stroke-width="0.78"/>
<circle cx="648.7" cy="222.3" r="1.55" fill="none" stroke="#000" stroke-width="0.78"/>
<line x1="668.80" y1="195.30" x2="668.80" y2="204.70" stroke="#111" stroke-width="0.9" />
<line x1="665.50" y1="195.30" x2="672.10" y2="195.30" stroke="#111" stroke-width="0.9" />
<line x1="665.50" y1="204.70" x2="672.10" y2="204.70" stroke="#111" stroke-width="0.9" />
<circle cx="668.9" cy="195.3" r="1.55" fill="none" stroke="#000" stroke-width="0.78"/>
<circle cx="665.5" cy="201.6" r="1.55" fill="none" stroke="#000" stroke-width="0.78"/>
<circle cx="672.0" cy="204.1" r="1.55" fill="none" stroke="#000" stroke-width="0.78"/>
<path d="M588.4,181.4 V177.8 H669.3 V181.4" fill="none" stroke="#000" stroke-width="1" stroke-linejoin="miter"/>
<text x="629.4" y="177.8" font-size="9.7" text-anchor="middle" fill="#000" >***</text>
<path d="M588.4,196.4 V192.8 H648.5 V196.4" fill="none" stroke="#000" stroke-width="1" stroke-linejoin="miter"/>
<text x="618.8" y="192.8" font-size="9.7" text-anchor="middle" fill="#000" >***</text>
<path d="M588.4,210.1 V206.5 H628.3 V210.1" fill="none" stroke="#000" stroke-width="1" stroke-linejoin="miter"/>
<text x="610.6" y="206.5" font-size="9.7" text-anchor="middle" fill="#000" >*</text>
<path d="M588.4,224.4 V220.8 H607.9 V224.4" fill="none" stroke="#000" stroke-width="1" stroke-linejoin="miter"/>
<text x="598.6" y="220.8" font-size="9.7" text-anchor="middle" fill="#000" >*</text>
<text x="198.5" y="321" font-size="14" font-weight="bold" fill="#000">j</text>
<text x="272.0" y="322.0" font-size="7.6" text-anchor="middle" fill="#111" >Lung</text>
<line x1="259.00" y1="399.30" x2="259.00" y2="424.70" stroke="#bdbdd8" stroke-width="1.1" />
<line x1="255.40" y1="399.30" x2="262.60" y2="399.30" stroke="#bdbdd8" stroke-width="1.1" />
<line x1="250.40" y1="411.80" x2="267.60" y2="411.80" stroke="#222" stroke-width="1.1" />
<rect x="257.2" y="390.2" width="3.9" height="3.9" fill="#32307c"/>
<rect x="257.2" y="407.9" width="3.9" height="3.9" fill="#32307c"/>
<rect x="257.2" y="413.8" width="3.9" height="3.9" fill="#32307c"/>
<rect x="253.1" y="417.4" width="3.9" height="3.9" fill="#32307c"/>
<rect x="261.2" y="421.7" width="3.9" height="3.9" fill="#32307c"/>
<line x1="285.30" y1="354.50" x2="285.30" y2="383.30" stroke="#333" stroke-width="0.8" />
<line x1="281.10" y1="354.50" x2="289.50" y2="354.50" stroke="#333" stroke-width="0.8" />
<line x1="281.10" y1="383.30" x2="289.50" y2="383.30" stroke="#333" stroke-width="0.8" />
<line x1="276.70" y1="369.10" x2="293.90" y2="369.10" stroke="#222" stroke-width="1.1" />
<path d="M278.9,355.1 L283.3,355.1 L281.1,351.1 Z" fill="#79f4db"/>
<path d="M287.1,356.5 L291.5,356.5 L289.3,352.5 Z" fill="#79f4db"/>
<path d="M283.0,376.2 L287.4,376.2 L285.2,372.2 Z" fill="#79f4db"/>
<path d="M278.9,382.9 L283.3,382.9 L281.1,378.9 Z" fill="#79f4db"/>
<path d="M287.1,385.3 L291.5,385.3 L289.3,381.3 Z" fill="#79f4db"/>
<line x1="241.50" y1="333.45" x2="241.50" y2="425.55" stroke="#111" stroke-width="1.0" />
<line x1="237.80" y1="333.90" x2="241.50" y2="333.90" stroke="#111" stroke-width="1.0" />
<text x="236.6" y="336.6" font-size="7.550000000000001" text-anchor="end" fill="#111" >0.015</text>
<line x1="237.80" y1="364.30" x2="241.50" y2="364.30" stroke="#111" stroke-width="1.0" />
<text x="236.6" y="367.0" font-size="7.550000000000001" text-anchor="end" fill="#111" >0.010</text>
<line x1="237.80" y1="394.70" x2="241.50" y2="394.70" stroke="#111" stroke-width="1.0" />
<text x="236.6" y="397.4" font-size="7.550000000000001" text-anchor="end" fill="#111" >0.005</text>
<line x1="237.80" y1="425.10" x2="241.50" y2="425.10" stroke="#111" stroke-width="1.0" />
<text x="236.6" y="427.8" font-size="7.550000000000001" text-anchor="end" fill="#111" >0.000</text>
<line x1="241.05" y1="425.10" x2="303.00" y2="425.10" stroke="#111" stroke-width="1.0" />
<line x1="259.00" y1="425.10" x2="259.00" y2="428.30" stroke="#111" stroke-width="1.0" />
<text x="259.0" y="436.7" font-size="7.4" text-anchor="middle" fill="#111" >Vehicle</text>
<line x1="285.30" y1="425.10" x2="285.30" y2="428.30" stroke="#111" stroke-width="1.0" />
<text x="285.3" y="436.7" font-size="7.4" text-anchor="middle" fill="#111" >OI</text>
<path d="M259.0,345.7 V342.1 H285.5 V345.7" fill="none" stroke="#000" stroke-width="1" stroke-linejoin="miter"/>
<text x="272.3" y="341.7" font-size="9.7" text-anchor="middle" fill="#000" >***</text>
<text transform="translate(213.8,378.9) rotate(-90)" font-size="7.4" text-anchor="middle" fill="#111" >VSV RNA</text>
<text x="362.1" y="322.0" font-size="7.6" text-anchor="middle" fill="#111" >Liver</text>
<line x1="347.50" y1="414.50" x2="347.50" y2="424.70" stroke="#bdbdd8" stroke-width="1.1" />
<line x1="343.90" y1="414.50" x2="351.10" y2="414.50" stroke="#bdbdd8" stroke-width="1.1" />
<line x1="338.90" y1="419.40" x2="356.10" y2="419.40" stroke="#222" stroke-width="1.1" />
<rect x="342.9" y="410.8" width="3.9" height="3.9" fill="#32307c"/>
<rect x="348.7" y="414.2" width="3.9" height="3.9" fill="#32307c"/>
<rect x="339.9" y="419.2" width="3.9" height="3.9" fill="#32307c"/>
<rect x="346.2" y="422.1" width="3.9" height="3.9" fill="#32307c"/>
<rect x="351.6" y="422.4" width="3.9" height="3.9" fill="#32307c"/>
<line x1="374.00" y1="353.10" x2="374.00" y2="403.70" stroke="#8a8a8a" stroke-width="1.1" />
<line x1="369.80" y1="353.10" x2="378.20" y2="353.10" stroke="#8a8a8a" stroke-width="1.1" />
<line x1="369.80" y1="403.70" x2="378.20" y2="403.70" stroke="#8a8a8a" stroke-width="1.1" />
<line x1="365.40" y1="378.20" x2="382.60" y2="378.20" stroke="#222" stroke-width="1.1" />
<path d="M371.8,345.3 L376.2,345.3 L374.0,341.3 Z" fill="#79f4db"/>
<path d="M371.8,365.0 L376.2,365.0 L374.0,361.0 Z" fill="#79f4db"/>
<path d="M371.8,387.7 L376.2,387.7 L374.0,383.7 Z" fill="#79f4db"/>
<path d="M367.4,402.3 L371.8,402.3 L369.6,398.3 Z" fill="#79f4db"/>
<path d="M375.8,404.0 L380.2,404.0 L378.0,400.0 Z" fill="#79f4db"/>
<line x1="330.00" y1="333.45" x2="330.00" y2="425.55" stroke="#111" stroke-width="1.0" />
<line x1="326.30" y1="333.90" x2="330.00" y2="333.90" stroke="#111" stroke-width="1.0" />
<text x="325.1" y="336.6" font-size="7.550000000000001" text-anchor="end" fill="#111" >0.10</text>
<line x1="326.30" y1="352.14" x2="330.00" y2="352.14" stroke="#111" stroke-width="1.0" />
<text x="325.1" y="354.8" font-size="7.550000000000001" text-anchor="end" fill="#111" >0.08</text>
<line x1="326.30" y1="370.38" x2="330.00" y2="370.38" stroke="#111" stroke-width="1.0" />
<text x="325.1" y="373.1" font-size="7.550000000000001" text-anchor="end" fill="#111" >0.06</text>
<line x1="326.30" y1="388.62" x2="330.00" y2="388.62" stroke="#111" stroke-width="1.0" />
<text x="325.1" y="391.3" font-size="7.550000000000001" text-anchor="end" fill="#111" >0.04</text>
<line x1="326.30" y1="406.86" x2="330.00" y2="406.86" stroke="#111" stroke-width="1.0" />
<text x="325.1" y="409.6" font-size="7.550000000000001" text-anchor="end" fill="#111" >0.02</text>
<line x1="326.30" y1="425.10" x2="330.00" y2="425.10" stroke="#111" stroke-width="1.0" />
<text x="325.1" y="427.8" font-size="7.550000000000001" text-anchor="end" fill="#111" >0.00</text>
<line x1="329.55" y1="425.10" x2="392.30" y2="425.10" stroke="#111" stroke-width="1.0" />
<line x1="347.50" y1="425.10" x2="347.50" y2="428.30" stroke="#111" stroke-width="1.0" />
<text x="347.5" y="436.7" font-size="7.4" text-anchor="middle" fill="#111" >Vehicle</text>
<line x1="374.00" y1="425.10" x2="374.00" y2="428.30" stroke="#111" stroke-width="1.0" />
<text x="374.0" y="436.7" font-size="7.4" text-anchor="middle" fill="#111" >OI</text>
<path d="M347.5,338.6 V335.0 H374.0 V338.6" fill="none" stroke="#000" stroke-width="1" stroke-linejoin="miter"/>
<text x="359.4" y="334.2" font-size="9.7" text-anchor="middle" fill="#000" >**</text>
<text x="440.8" y="322.0" font-size="7.6" text-anchor="middle" fill="#111" >Spleen</text>
<line x1="428.60" y1="418.00" x2="428.60" y2="424.70" stroke="#bdbdd8" stroke-width="1.1" />
<line x1="425.00" y1="418.00" x2="432.20" y2="418.00" stroke="#bdbdd8" stroke-width="1.1" />
<line x1="420.00" y1="421.80" x2="437.20" y2="421.80" stroke="#222" stroke-width="1.1" />
<rect x="426.7" y="414.2" width="3.9" height="3.9" fill="#32307c"/>
<rect x="420.7" y="419.4" width="3.9" height="3.9" fill="#32307c"/>
<rect x="429.9" y="420.4" width="3.9" height="3.9" fill="#32307c"/>
<rect x="425.4" y="422.2" width="3.9" height="3.9" fill="#32307c"/>
<rect x="432.9" y="422.4" width="3.9" height="3.9" fill="#32307c"/>
<line x1="455.10" y1="356.80" x2="455.10" y2="391.80" stroke="#8a8a8a" stroke-width="1.1" />
<line x1="450.90" y1="356.80" x2="459.30" y2="356.80" stroke="#8a8a8a" stroke-width="1.1" />
<line x1="450.90" y1="391.80" x2="459.30" y2="391.80" stroke="#8a8a8a" stroke-width="1.1" />
<line x1="446.50" y1="374.20" x2="463.70" y2="374.20" stroke="#222" stroke-width="1.1" />
<path d="M448.8,358.5 L453.2,358.5 L451.0,354.5 Z" fill="#79f4db"/>
<path d="M457.3,362.6 L461.7,362.6 L459.5,358.6 Z" fill="#79f4db"/>
<path d="M452.9,375.1 L457.3,375.1 L455.1,371.1 Z" fill="#79f4db"/>
<path d="M452.9,386.3 L457.3,386.3 L455.1,382.3 Z" fill="#79f4db"/>
<path d="M452.9,401.6 L457.3,401.6 L455.1,397.6 Z" fill="#79f4db"/>
<line x1="411.80" y1="333.45" x2="411.80" y2="425.55" stroke="#111" stroke-width="1.0" />
<line x1="408.10" y1="333.90" x2="411.80" y2="333.90" stroke="#111" stroke-width="1.0" />
<text x="406.9" y="336.6" font-size="7.550000000000001" text-anchor="end" fill="#111" >0.5</text>
<line x1="408.10" y1="352.14" x2="411.80" y2="352.14" stroke="#111" stroke-width="1.0" />
<text x="406.9" y="354.8" font-size="7.550000000000001" text-anchor="end" fill="#111" >0.4</text>
<line x1="408.10" y1="370.38" x2="411.80" y2="370.38" stroke="#111" stroke-width="1.0" />
<text x="406.9" y="373.1" font-size="7.550000000000001" text-anchor="end" fill="#111" >0.3</text>
<line x1="408.10" y1="388.62" x2="411.80" y2="388.62" stroke="#111" stroke-width="1.0" />
<text x="406.9" y="391.3" font-size="7.550000000000001" text-anchor="end" fill="#111" >0.2</text>
<line x1="408.10" y1="406.86" x2="411.80" y2="406.86" stroke="#111" stroke-width="1.0" />
<text x="406.9" y="409.6" font-size="7.550000000000001" text-anchor="end" fill="#111" >0.1</text>
<line x1="408.10" y1="425.10" x2="411.80" y2="425.10" stroke="#111" stroke-width="1.0" />
<text x="406.9" y="427.8" font-size="7.550000000000001" text-anchor="end" fill="#111" >0.0</text>
<line x1="411.35" y1="425.10" x2="473.00" y2="425.10" stroke="#111" stroke-width="1.0" />
<line x1="428.60" y1="425.10" x2="428.60" y2="428.30" stroke="#111" stroke-width="1.0" />
<text x="428.6" y="436.7" font-size="7.4" text-anchor="middle" fill="#111" >Vehicle</text>
<line x1="455.10" y1="425.10" x2="455.10" y2="428.30" stroke="#111" stroke-width="1.0" />
<text x="455.1" y="436.7" font-size="7.4" text-anchor="middle" fill="#111" >OI</text>
<path d="M428.6,346.7 V343.1 H455.1 V346.7" fill="none" stroke="#000" stroke-width="1" stroke-linejoin="miter"/>
<text x="441.5" y="342.7" font-size="9.7" text-anchor="middle" fill="#000" >***</text>
<text x="484" y="322" font-size="14" font-weight="bold" fill="#000">k</text>
<text x="550.5" y="322.0" font-size="7.6" text-anchor="middle" fill="#111" >Lung</text>
<line x1="537.30" y1="423.00" x2="537.30" y2="423.60" stroke="#bdbdd8" stroke-width="1.1" />
<line x1="533.70" y1="423.00" x2="540.90" y2="423.00" stroke="#bdbdd8" stroke-width="1.1" />
<line x1="528.70" y1="423.30" x2="545.90" y2="423.30" stroke="#222" stroke-width="1.1" />
<line x1="563.40" y1="360.00" x2="563.40" y2="393.30" stroke="#333" stroke-width="0.8" />
<line x1="559.20" y1="360.00" x2="567.60" y2="360.00" stroke="#333" stroke-width="0.8" />
<line x1="559.20" y1="393.30" x2="567.60" y2="393.30" stroke="#333" stroke-width="0.8" />
<line x1="554.80" y1="376.60" x2="572.00" y2="376.60" stroke="#222" stroke-width="1.1" />
<path d="M561.2,357.6 L565.6,357.6 L563.4,353.6 Z" fill="#79f4db"/>
<path d="M561.2,375.9 L565.6,375.9 L563.4,371.9 Z" fill="#79f4db"/>
<path d="M561.2,385.4 L565.6,385.4 L563.4,381.4 Z" fill="#79f4db"/>
<path d="M561.2,397.3 L565.6,397.3 L563.4,393.3 Z" fill="#79f4db"/>
<line x1="519.90" y1="333.45" x2="519.90" y2="425.55" stroke="#111" stroke-width="1.0" />
<line x1="516.20" y1="333.90" x2="519.90" y2="333.90" stroke="#111" stroke-width="1.0" />
<text x="515.0" y="336.6" font-size="7.550000000000001" text-anchor="end" fill="#111" >25</text>
<line x1="516.20" y1="352.14" x2="519.90" y2="352.14" stroke="#111" stroke-width="1.0" />
<text x="515.0" y="354.8" font-size="7.550000000000001" text-anchor="end" fill="#111" >20</text>
<line x1="516.20" y1="370.38" x2="519.90" y2="370.38" stroke="#111" stroke-width="1.0" />
<text x="515.0" y="373.1" font-size="7.550000000000001" text-anchor="end" fill="#111" >15</text>
<line x1="516.20" y1="388.62" x2="519.90" y2="388.62" stroke="#111" stroke-width="1.0" />
<text x="515.0" y="391.3" font-size="7.550000000000001" text-anchor="end" fill="#111" >10</text>
<line x1="516.20" y1="406.86" x2="519.90" y2="406.86" stroke="#111" stroke-width="1.0" />
<text x="515.0" y="409.6" font-size="7.550000000000001" text-anchor="end" fill="#111" >5</text>
<line x1="516.20" y1="425.10" x2="519.90" y2="425.10" stroke="#111" stroke-width="1.0" />
<text x="515.0" y="427.8" font-size="7.550000000000001" text-anchor="end" fill="#111" >0</text>
<line x1="519.45" y1="425.10" x2="581.10" y2="425.10" stroke="#111" stroke-width="1.0" />
<line x1="537.30" y1="425.10" x2="537.30" y2="428.30" stroke="#111" stroke-width="1.0" />
<text x="537.3" y="436.7" font-size="7.4" text-anchor="middle" fill="#111" >Vehicle</text>
<line x1="563.40" y1="425.10" x2="563.40" y2="428.30" stroke="#111" stroke-width="1.0" />
<text x="563.4" y="436.7" font-size="7.4" text-anchor="middle" fill="#111" >OI</text>
<path d="M537.3,344.4 V340.8 H563.4 V344.4" fill="none" stroke="#000" stroke-width="1" stroke-linejoin="miter"/>
<text x="550.2" y="340.4" font-size="9.7" text-anchor="middle" fill="#000" >**</text>
<rect x="529.2" y="421.1" width="3.5" height="3.5" fill="#32307c"/>
<rect x="532.5" y="421.6" width="3.5" height="3.5" fill="#32307c"/>
<rect x="535.6" y="421.2" width="3.5" height="3.5" fill="#32307c"/>
<rect x="538.9" y="421.8" width="3.5" height="3.5" fill="#32307c"/>
<rect x="541.9" y="421.6" width="3.5" height="3.5" fill="#32307c"/>
<text transform="translate(501.9,378.3) rotate(-90)" font-size="7.7" text-anchor="middle" fill="#111">IAV RNA (fold ×10<tspan font-size="5.4" dy="-3">3</tspan><tspan dy="3">)</tspan></text>
</svg></body></html>
